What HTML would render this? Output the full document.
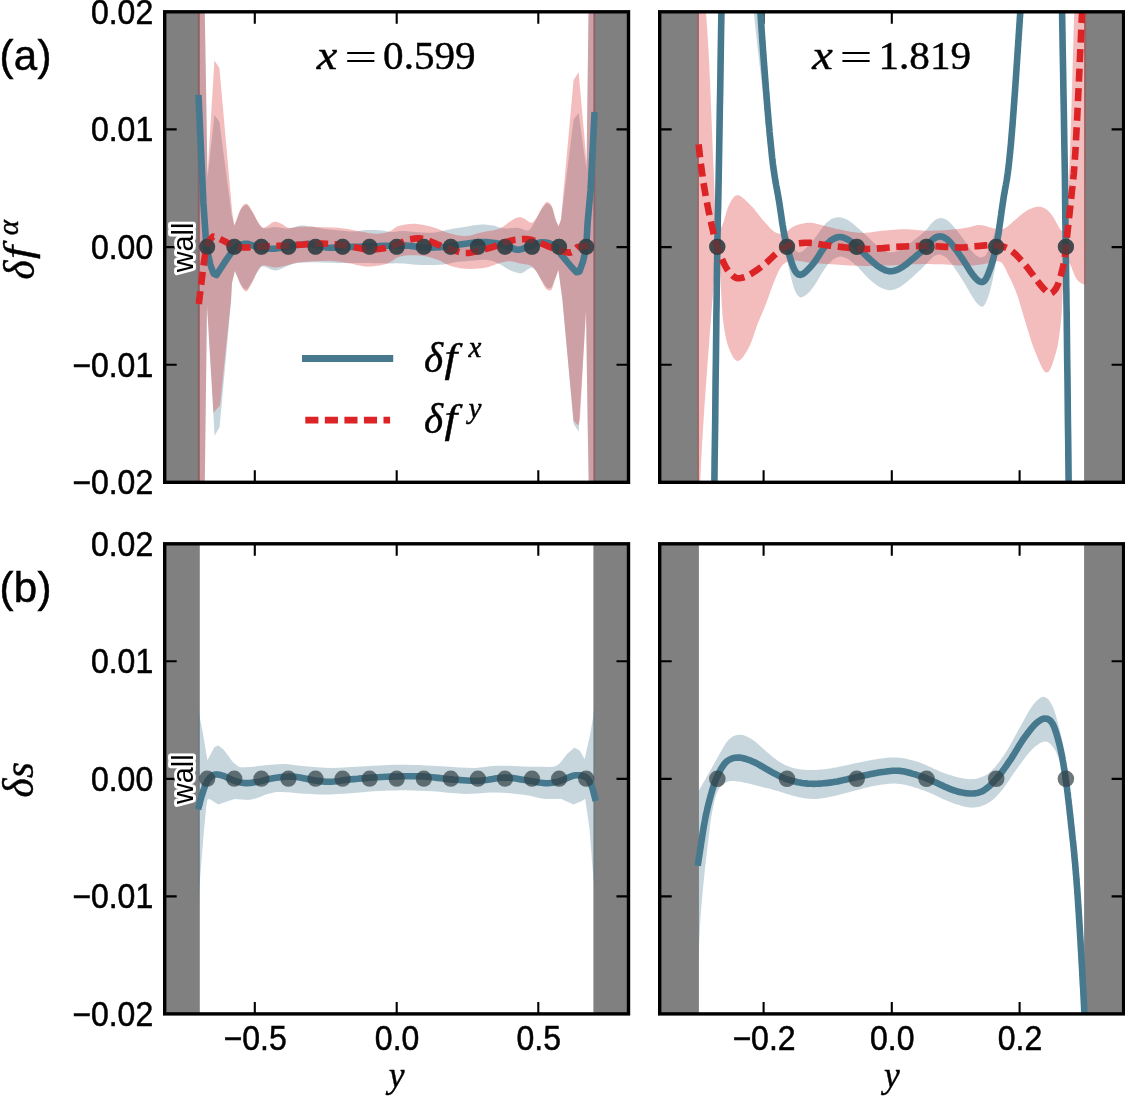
<!DOCTYPE html><html><head><meta charset="utf-8"><title>figure</title><style>html,body{margin:0;padding:0;background:#fff}svg{display:block}text{font-family:"Liberation Sans",sans-serif;fill:#000}.m{font-family:"Liberation Serif",serif}.i{font-style:italic}</style></head><body>
<svg width="1125" height="1096" viewBox="0 0 1125 1096">
<rect width="1125" height="1096" fill="#fff"/>
<defs>
<clipPath id="c00"><rect x="164.7" y="11.8" width="463.8" height="470.5"/></clipPath>
<clipPath id="c01"><rect x="659.7" y="11.8" width="463.9" height="470.5"/></clipPath>
<clipPath id="c10"><rect x="164.7" y="543.8" width="463.8" height="470.1"/></clipPath>
<clipPath id="c11"><rect x="659.7" y="543.8" width="463.9" height="470.1"/></clipPath>
</defs>
<g clip-path="url(#c00)">
<rect x="164.7" y="11.8" width="35.1" height="470.5" fill="#808080"/>
<rect x="593.4" y="11.8" width="35.1" height="470.5" fill="#808080"/>
<path d="M254.8 11.8v12.0 M254.8 482.3v-12.0 M396.7 11.8v12.0 M396.7 482.3v-12.0 M538.3 11.8v12.0 M538.3 482.3v-12.0 M164.7 129.4h12.0 M628.5 129.4h-12.0 M164.7 247.1h12.0 M628.5 247.1h-12.0 M164.7 364.7h12.0 M628.5 364.7h-12.0" stroke="#000" stroke-width="2.1" fill="none"/>
<polygon points="197.8,-300.0 202.8,-107.0 207.5,178.0 214.5,115.0 219.4,121.8 231.5,214.0 234.3,226.0 236.0,221.9 237.6,217.4 239.2,213.2 240.9,209.5 242.6,207.0 243.4,206.2 244.2,205.6 245.1,205.2 245.9,205.0 246.7,205.0 247.6,205.5 248.5,206.4 249.4,207.6 250.3,209.0 251.3,210.5 253.0,213.2 254.8,216.5 256.6,220.0 258.4,223.2 260.0,225.5 260.7,226.3 261.3,227.0 261.9,227.5 262.6,228.0 263.4,228.3 265.1,228.4 267.2,228.2 269.5,227.7 271.9,227.2 274.3,227.0 277.0,227.2 279.9,227.6 282.8,228.1 285.7,228.5 288.5,228.5 290.9,228.1 293.2,227.4 295.5,226.7 297.7,226.0 300.0,225.6 302.2,225.5 304.4,225.6 306.6,225.9 308.8,226.2 311.0,226.5 313.2,226.8 315.3,227.2 317.4,227.7 319.6,228.1 322.0,228.5 325.3,229.0 329.0,229.4 332.7,229.8 336.4,230.2 340.0,230.5 343.1,230.8 346.2,231.1 349.2,231.4 352.2,231.5 355.0,231.5 357.3,231.3 359.4,231.0 361.5,230.6 363.7,230.2 366.0,230.0 369.1,229.9 372.4,229.9 375.7,230.1 379.0,230.3 382.0,230.5 384.2,230.8 386.2,231.2 388.2,231.6 390.1,231.9 392.0,232.0 393.6,231.9 395.0,231.7 396.4,231.4 398.1,231.2 400.0,231.0 405.3,231.1 412.1,231.7 419.4,232.3 426.6,232.8 432.8,232.7 436.5,232.3 439.8,231.6 443.0,230.9 446.1,230.1 449.3,229.4 452.6,228.8 455.9,228.3 459.1,227.7 462.4,227.2 465.7,226.7 469.0,226.2 472.4,225.6 475.8,225.1 479.0,224.7 482.1,224.5 484.4,224.5 486.6,224.7 488.8,224.9 490.9,225.2 493.0,225.6 495.2,226.1 497.3,226.7 499.5,227.4 501.7,227.9 504.0,228.3 506.6,228.4 509.3,228.2 512.1,227.9 514.8,227.7 517.4,227.8 519.8,228.3 522.2,229.1 524.5,230.0 526.6,230.5 528.3,230.5 529.2,230.1 529.8,229.5 530.4,228.7 531.0,227.9 531.6,227.0 532.5,225.7 533.3,224.3 534.2,222.7 535.1,221.1 536.0,219.5 537.1,217.6 538.1,215.5 539.2,213.4 540.3,211.4 541.5,209.6 542.5,208.1 543.6,206.5 544.7,205.1 545.8,204.0 546.9,203.5 547.8,203.6 548.7,203.9 549.6,204.6 550.5,205.4 551.3,206.3 552.4,208.4 553.3,211.2 554.1,214.4 554.9,217.4 555.7,220.0 556.3,221.5 556.9,222.8 557.4,224.0 558.0,225.2 558.6,226.5 561.0,220.0 573.6,119.5 578.6,112.9 586.5,170.0 588.5,13.0 590.5,-107.0 595.3,-300.0 595.3,800.0 590.5,650.0 588.7,482.0 587.6,420.0 586.0,311.0 578.6,431.5 573.6,424.0 562.4,300.0 558.4,270.0 557.6,272.0 556.9,274.1 556.1,276.1 555.4,278.1 554.6,280.0 553.9,281.8 553.2,283.8 552.5,285.6 551.7,287.1 550.8,288.0 550.1,288.3 549.3,288.3 548.5,288.2 547.7,287.9 546.9,287.5 545.8,286.5 544.7,285.1 543.6,283.5 542.6,281.7 541.5,280.0 540.4,278.2 539.3,276.2 538.2,274.3 537.1,272.5 536.0,271.0 535.2,270.1 534.4,269.2 533.5,268.5 532.6,267.9 531.6,267.7 530.0,268.1 528.1,269.2 526.1,270.6 524.3,271.9 522.8,272.7 522.2,272.9 521.7,273.1 521.2,273.2 520.6,273.2 520.0,273.2 518.3,273.0 516.3,272.5 514.0,271.7 511.7,270.9 509.5,270.0 507.3,268.8 505.1,267.4 502.9,266.0 500.7,264.6 498.5,263.4 496.4,262.5 494.4,261.7 492.3,261.0 490.1,260.4 487.6,260.0 483.6,259.8 479.0,260.0 474.3,260.4 469.7,260.8 465.7,261.2 463.3,261.4 461.0,261.6 458.9,261.8 456.8,262.0 454.7,262.3 452.6,262.7 450.5,263.2 448.4,263.7 446.2,264.1 443.8,264.5 439.9,264.8 435.6,265.0 431.0,265.1 426.4,265.1 421.9,265.0 417.4,264.8 412.8,264.4 408.3,264.0 404.0,263.6 400.0,263.4 397.4,263.3 395.0,263.3 392.6,263.4 390.2,263.4 387.6,263.4 383.6,263.3 379.1,263.3 374.5,263.2 369.9,263.1 365.7,263.0 362.4,263.0 359.3,263.0 356.2,263.0 353.1,263.0 350.0,263.0 346.6,263.0 343.3,262.9 339.9,262.9 336.4,262.9 332.8,262.8 328.4,262.7 323.7,262.5 318.9,262.4 314.3,262.3 310.0,262.3 306.7,262.4 303.5,262.5 300.5,262.7 297.6,263.0 295.1,263.4 293.6,263.7 292.4,264.1 291.2,264.5 289.9,265.0 288.5,265.5 286.2,266.5 283.6,267.8 280.9,269.0 278.1,270.0 275.4,270.5 272.7,270.1 269.8,268.9 267.0,267.6 264.4,266.6 262.3,266.5 261.2,267.0 260.3,267.7 259.5,268.7 258.7,269.8 257.9,271.0 256.6,273.1 255.3,275.5 253.9,278.2 252.6,280.8 251.3,283.0 250.3,284.6 249.3,286.3 248.4,287.8 247.4,289.0 246.4,289.5 245.6,289.5 244.9,289.1 244.1,288.6 243.4,287.8 242.6,287.0 241.1,284.7 239.5,281.7 238.0,278.1 236.4,274.4 234.9,271.0 232.0,283.0 231.0,302.0 219.6,427.0 214.6,435.8 207.0,306.0 204.8,482.0 202.8,650.0 197.8,800.0" fill="#46788e" fill-opacity="0.30"/>
<polygon points="197.8,-300.0 202.8,-107.0 207.5,175.0 214.4,60.4 219.4,68.0 232.2,212.0 234.3,225.0 236.0,220.9 237.6,216.4 239.2,212.1 240.9,208.5 242.6,205.9 243.4,205.1 244.3,204.4 245.1,203.9 245.9,203.7 246.7,203.7 247.7,204.2 248.5,205.2 249.4,206.6 250.3,208.1 251.3,209.7 253.0,212.5 254.8,215.9 256.6,219.5 258.4,222.6 260.0,225.0 260.7,225.8 261.3,226.6 261.9,227.2 262.6,227.6 263.4,227.8 265.2,227.3 267.4,225.9 269.8,224.2 272.2,222.6 274.3,221.8 275.7,221.8 277.0,222.0 278.3,222.4 279.6,222.9 280.9,223.4 282.4,224.2 283.8,225.2 285.3,226.3 286.8,227.2 288.5,227.8 290.5,228.0 292.7,227.8 295.0,227.5 297.3,227.1 299.5,226.9 301.6,226.8 303.7,226.8 305.8,226.8 307.9,226.8 310.0,226.8 312.4,226.8 314.8,226.9 317.2,227.0 319.6,227.1 322.0,227.2 324.2,227.3 326.4,227.3 328.6,227.3 330.8,227.4 333.0,227.5 335.1,227.6 337.2,227.8 339.3,228.0 341.6,228.2 344.0,228.5 348.1,229.1 352.7,230.0 357.5,230.9 362.0,231.8 366.0,232.5 368.2,232.9 370.2,233.2 372.1,233.5 374.0,233.7 376.0,233.8 378.3,233.7 380.6,233.6 383.0,233.3 385.3,232.8 387.6,232.2 389.8,231.2 392.0,229.9 394.1,228.5 396.3,227.1 398.5,226.1 400.7,225.4 403.0,224.9 405.2,224.5 407.4,224.2 409.5,224.0 410.9,223.9 412.2,223.8 413.5,223.7 414.9,223.8 416.4,223.9 419.2,224.3 422.5,224.8 425.9,225.5 429.4,226.3 432.8,227.2 436.1,228.3 439.4,229.6 442.7,230.9 446.0,232.2 449.3,233.2 452.6,234.1 455.8,234.9 459.1,235.5 462.4,235.9 465.7,236.0 469.0,235.7 472.3,234.9 475.5,234.0 478.8,233.0 482.1,232.2 485.5,231.6 489.1,231.0 492.6,230.4 495.8,229.8 498.5,229.0 499.8,228.5 501.0,227.9 502.0,227.3 503.0,226.7 504.0,226.0 505.1,225.2 506.2,224.4 507.3,223.5 508.5,222.6 509.7,221.8 511.2,220.8 512.7,219.7 514.3,218.7 515.9,217.9 517.4,217.4 518.5,217.2 519.6,217.2 520.6,217.3 521.7,217.6 522.8,217.9 524.5,218.8 526.4,220.1 528.3,221.4 530.0,222.5 531.6,222.8 532.6,222.4 533.5,221.7 534.4,220.7 535.2,219.6 536.0,218.5 537.1,216.8 538.2,214.8 539.3,212.6 540.4,210.5 541.5,208.6 542.5,207.0 543.6,205.3 544.7,203.7 545.8,202.5 546.9,202.0 547.8,202.1 548.7,202.6 549.6,203.3 550.5,204.3 551.3,205.3 552.4,207.5 553.3,210.5 554.1,213.8 554.9,216.9 555.7,219.6 556.3,221.1 556.9,222.4 557.4,223.6 558.0,224.8 558.6,226.1 561.0,219.0 573.6,80.1 578.6,71.9 583.8,130.0 586.6,163.0 588.5,13.0 590.5,-107.0 595.3,-300.0 595.3,800.0 590.5,650.0 588.7,482.0 587.6,420.0 586.0,311.0 579.9,420.0 578.3,425.4 573.6,421.0 562.4,300.0 558.4,270.0 557.6,272.2 556.9,274.4 556.1,276.6 555.4,278.8 554.6,280.9 553.9,283.0 553.2,285.3 552.5,287.4 551.8,289.2 550.8,290.2 550.1,290.5 549.3,290.5 548.5,290.3 547.7,290.0 546.9,289.6 545.7,288.5 544.7,286.8 543.6,284.9 542.6,282.8 541.5,280.9 540.4,278.9 539.3,276.8 538.2,274.7 537.1,272.7 536.0,271.0 535.2,269.8 534.4,268.7 533.6,267.7 532.7,266.8 531.6,266.0 529.7,265.2 527.4,264.6 524.9,264.2 522.4,263.8 520.0,263.4 517.9,262.9 515.8,262.3 513.7,261.8 511.6,261.4 509.5,261.2 507.3,261.3 505.1,261.7 502.9,262.2 500.7,262.8 498.5,263.4 496.4,264.1 494.3,264.9 492.2,265.8 490.0,266.6 487.6,267.2 483.7,267.9 479.3,268.4 474.6,268.8 470.0,268.9 465.7,268.8 462.2,268.5 458.8,268.0 455.5,267.3 452.3,266.4 449.3,265.5 447.0,264.5 444.8,263.4 442.8,262.2 440.6,261.0 438.3,260.0 435.3,258.9 432.2,257.9 428.9,257.0 425.5,256.2 422.0,255.7 417.7,255.3 413.1,255.2 408.4,255.3 404.0,255.7 400.0,256.5 397.2,257.6 394.7,259.1 392.4,260.7 390.0,262.2 387.6,263.4 385.3,264.2 383.0,264.8 380.6,265.3 378.3,265.7 376.0,266.0 373.9,266.3 371.9,266.5 369.9,266.6 367.9,266.7 365.7,266.6 362.8,266.2 359.7,265.6 356.5,264.9 353.2,264.1 350.0,263.5 346.7,262.9 343.3,262.3 339.9,261.8 336.4,261.3 332.8,261.0 328.4,260.8 323.7,260.9 318.9,261.0 314.3,261.2 310.0,261.5 306.7,261.7 303.5,261.9 300.5,262.2 297.6,262.6 295.1,263.0 293.6,263.4 292.4,263.8 291.2,264.2 289.9,264.6 288.5,265.0 286.2,265.6 283.6,266.2 280.9,266.8 278.1,267.3 275.4,267.5 272.7,267.2 269.8,266.5 267.0,265.7 264.4,265.3 262.3,265.5 261.1,266.2 260.2,267.1 259.5,268.3 258.7,269.6 257.9,271.0 256.6,273.3 255.3,276.0 253.9,278.9 252.6,281.7 251.3,284.2 250.3,286.0 249.3,287.8 248.4,289.5 247.4,290.7 246.4,291.3 245.6,291.2 244.9,290.9 244.1,290.2 243.4,289.4 242.6,288.5 241.1,286.0 239.5,282.6 238.0,278.8 236.4,274.8 234.9,271.0 232.0,283.0 231.0,300.0 220.0,405.5 213.5,412.8 207.0,305.5 204.8,482.0 202.8,650.0 197.8,800.0" fill="#dc2326" fill-opacity="0.30"/>
<path d="M198.6 98.2 L203.4 203.0 L206.4 247.0 L210.3 264.5 L213.5 273.5 L216.5 275.0 L221.0 268.0 L226.1 260.1 L233.8 249.1 L238.5 245.5 L240.0 245.1 L241.4 244.6 L242.9 244.2 L244.3 243.8 L245.8 243.7 L247.2 243.8 L248.7 244.1 L250.1 244.6 L251.5 245.0 L253.0 245.5 L254.5 246.0 L256.1 246.5 L257.6 247.1 L259.2 247.6 L261.0 248.0 L263.5 248.4 L266.3 248.6 L269.2 248.7 L272.2 248.7 L275.0 248.6 L277.6 248.3 L280.3 247.9 L282.9 247.5 L285.4 246.9 L288.0 246.5 L290.4 246.1 L292.9 245.7 L295.3 245.3 L297.7 245.0 L300.0 244.7 L302.0 244.5 L303.9 244.2 L305.9 244.0 L307.9 243.9 L310.0 244.0 L313.1 244.4 L316.4 245.2 L319.8 246.1 L323.4 247.0 L327.0 247.5 L331.3 247.7 L335.7 247.6 L340.3 247.4 L344.7 247.2 L349.0 247.0 L352.5 246.9 L355.9 246.8 L359.2 246.7 L362.5 246.6 L366.0 246.5 L370.2 246.4 L374.4 246.2 L378.8 246.0 L383.2 245.9 L387.6 245.8 L392.1 245.7 L396.6 245.6 L401.2 245.6 L405.5 245.6 L409.5 245.8 L412.2 246.1 L414.6 246.5 L416.9 246.9 L419.3 247.3 L422.0 247.5 L426.0 247.6 L430.3 247.7 L434.8 247.5 L439.3 247.3 L443.8 247.0 L448.2 246.5 L452.7 245.8 L457.2 245.1 L461.5 244.3 L465.7 243.7 L469.1 243.2 L472.4 242.8 L475.7 242.4 L478.9 242.1 L482.1 242.0 L485.4 242.1 L488.8 242.3 L492.2 242.7 L495.4 243.1 L498.5 243.7 L500.9 244.3 L503.2 244.9 L505.4 245.6 L507.5 246.3 L509.5 247.0 L511.1 247.6 L512.7 248.3 L514.2 249.0 L515.8 249.5 L517.4 249.7 L519.4 249.6 L521.5 249.1 L523.7 248.5 L525.8 247.7 L528.0 247.0 L530.2 246.1 L532.5 245.1 L534.8 244.0 L537.0 243.2 L539.3 242.6 L541.5 242.4 L543.7 242.4 L546.0 242.6 L548.1 243.0 L550.0 243.5 L551.3 244.0 L552.6 244.7 L553.7 245.5 L554.8 246.3 L556.0 247.0 L561.2 254.6 L566.5 261.0 L571.5 267.0 L576.5 272.3 L579.5 271.5 L583.1 261.2 L586.3 247.0 L587.6 222.8 L590.6 190.0 L594.4 115.3" fill="none" stroke="#46788e" stroke-width="6.6" stroke-linejoin="round" stroke-linecap="square"/>
<circle cx="207.2" cy="246.8" r="8.0" fill="#313e43" fill-opacity="0.7"/><circle cx="234.3" cy="246.8" r="8.0" fill="#313e43" fill-opacity="0.7"/><circle cx="261.4" cy="246.8" r="8.0" fill="#313e43" fill-opacity="0.7"/><circle cx="288.4" cy="246.8" r="8.0" fill="#313e43" fill-opacity="0.7"/><circle cx="315.5" cy="246.8" r="8.0" fill="#313e43" fill-opacity="0.7"/><circle cx="342.6" cy="246.8" r="8.0" fill="#313e43" fill-opacity="0.7"/><circle cx="369.6" cy="246.8" r="8.0" fill="#313e43" fill-opacity="0.7"/><circle cx="396.7" cy="246.8" r="8.0" fill="#313e43" fill-opacity="0.7"/><circle cx="423.8" cy="246.8" r="8.0" fill="#313e43" fill-opacity="0.7"/><circle cx="450.8" cy="246.8" r="8.0" fill="#313e43" fill-opacity="0.7"/><circle cx="477.9" cy="246.8" r="8.0" fill="#313e43" fill-opacity="0.7"/><circle cx="505.0" cy="246.8" r="8.0" fill="#313e43" fill-opacity="0.7"/><circle cx="532.0" cy="246.8" r="8.0" fill="#313e43" fill-opacity="0.7"/><circle cx="559.1" cy="246.8" r="8.0" fill="#313e43" fill-opacity="0.7"/><circle cx="586.2" cy="246.8" r="8.0" fill="#313e43" fill-opacity="0.7"/>
<path d="M198.8 304.0 L202.0 277.6 L204.2 260.0 L206.4 247.0 L209.5 240.0 L213.0 236.5 L217.0 237.5 L222.8 240.4 L225.0 241.5 L227.2 242.7 L229.4 243.9 L231.6 245.0 L233.8 245.8 L235.9 246.4 L238.0 246.8 L240.2 247.1 L242.4 247.4 L244.7 247.5 L247.7 247.5 L250.9 247.3 L254.1 247.0 L257.6 246.7 L261.2 246.4 L266.4 246.2 L272.2 245.9 L278.1 245.7 L283.7 245.5 L288.5 245.3 L291.1 245.2 L293.3 245.1 L295.4 244.9 L297.5 244.8 L300.0 244.7 L303.9 244.5 L308.3 244.1 L312.9 243.9 L317.5 243.6 L322.0 243.6 L326.4 243.7 L330.7 244.0 L335.1 244.3 L339.4 244.8 L343.8 245.3 L348.2 246.0 L352.7 246.9 L357.2 247.8 L361.5 248.6 L365.7 249.1 L369.1 249.3 L372.4 249.4 L375.6 249.3 L378.8 249.0 L382.0 248.6 L385.4 247.9 L388.8 247.0 L392.1 245.9 L395.4 244.8 L398.5 243.7 L400.9 242.8 L403.2 241.8 L405.4 240.8 L407.6 239.9 L409.9 239.3 L412.3 238.9 L414.6 238.5 L417.0 238.4 L419.5 238.4 L422.0 238.7 L425.2 239.4 L428.5 240.6 L431.8 242.0 L435.1 243.4 L438.3 244.7 L441.0 245.8 L443.6 246.8 L446.2 247.8 L448.8 248.8 L451.5 249.7 L454.3 250.6 L457.2 251.4 L460.1 252.2 L463.0 252.7 L465.7 253.0 L467.9 253.0 L470.1 252.7 L472.2 252.3 L474.3 251.8 L476.6 251.3 L479.7 250.6 L483.1 249.8 L486.5 248.8 L489.9 247.9 L493.0 246.9 L495.4 246.1 L497.6 245.2 L499.8 244.2 L502.0 243.4 L504.2 242.6 L506.4 241.9 L508.5 241.3 L510.7 240.7 L512.9 240.2 L515.2 239.8 L517.8 239.5 L520.4 239.2 L523.1 239.1 L525.7 239.1 L528.3 239.3 L530.5 239.7 L532.7 240.3 L534.8 241.0 L537.0 241.8 L539.3 242.6 L542.4 243.8 L545.6 245.2 L549.0 246.6 L552.4 248.0 L555.7 249.1 L558.9 250.1 L562.2 251.2 L565.4 252.1 L568.4 252.6 L571.0 252.4 L572.6 251.7 L573.9 250.7 L575.2 249.5 L576.3 248.2 L577.6 247.0 L590.2 245.3 L595.0 245.0" fill="none" stroke="#dc2326" stroke-width="6.6" stroke-linejoin="round" stroke-dasharray="12.95 6.45" stroke-linecap="butt"/>
<circle cx="207.2" cy="246.8" r="8.0" fill="#313e43" fill-opacity="0.7"/><circle cx="234.3" cy="246.8" r="8.0" fill="#313e43" fill-opacity="0.7"/><circle cx="261.4" cy="246.8" r="8.0" fill="#313e43" fill-opacity="0.7"/><circle cx="288.4" cy="246.8" r="8.0" fill="#313e43" fill-opacity="0.7"/><circle cx="315.5" cy="246.8" r="8.0" fill="#313e43" fill-opacity="0.7"/><circle cx="342.6" cy="246.8" r="8.0" fill="#313e43" fill-opacity="0.7"/><circle cx="369.6" cy="246.8" r="8.0" fill="#313e43" fill-opacity="0.7"/><circle cx="396.7" cy="246.8" r="8.0" fill="#313e43" fill-opacity="0.7"/><circle cx="423.8" cy="246.8" r="8.0" fill="#313e43" fill-opacity="0.7"/><circle cx="450.8" cy="246.8" r="8.0" fill="#313e43" fill-opacity="0.7"/><circle cx="477.9" cy="246.8" r="8.0" fill="#313e43" fill-opacity="0.7"/><circle cx="505.0" cy="246.8" r="8.0" fill="#313e43" fill-opacity="0.7"/><circle cx="532.0" cy="246.8" r="8.0" fill="#313e43" fill-opacity="0.7"/><circle cx="559.1" cy="246.8" r="8.0" fill="#313e43" fill-opacity="0.7"/><circle cx="586.2" cy="246.8" r="8.0" fill="#313e43" fill-opacity="0.7"/>
</g>
<g clip-path="url(#c01)">
<rect x="659.7" y="11.8" width="39.2" height="470.5" fill="#808080"/>
<rect x="1084.1" y="11.8" width="39.5" height="470.5" fill="#808080"/>
<path d="M763.6 11.8v12.0 M763.6 482.3v-12.0 M891.8 11.8v12.0 M891.8 482.3v-12.0 M1019.6 11.8v12.0 M1019.6 482.3v-12.0 M659.7 129.4h12.0 M1123.6 129.4h-12.0 M659.7 247.1h12.0 M1123.6 247.1h-12.0 M659.7 364.7h12.0 M1123.6 364.7h-12.0" stroke="#000" stroke-width="2.1" fill="none"/>
<polygon points="756.0,-86.0 756.1,-84.0 756.2,-82.0 756.3,-80.0 756.4,-78.0 756.5,-76.0 756.5,-74.0 756.6,-72.0 756.7,-70.0 756.8,-68.0 756.9,-66.0 757.0,-64.0 757.1,-62.0 757.1,-60.0 757.2,-58.0 757.3,-56.0 757.4,-54.0 757.5,-51.9 757.6,-49.9 757.6,-47.9 757.7,-45.9 757.8,-43.9 757.9,-41.9 758.0,-39.8 758.1,-37.8 758.2,-35.8 758.3,-33.8 758.3,-31.8 758.4,-29.8 758.5,-27.7 758.6,-25.7 758.7,-23.7 758.8,-21.7 758.9,-19.7 759.0,-17.7 759.1,-15.6 759.2,-13.6 759.3,-11.6 759.4,-9.6 759.6,-7.6 759.7,-5.6 759.8,-3.5 759.9,-1.5 760.0,0.5 760.2,2.5 760.3,4.6 760.4,6.6 760.5,8.6 760.7,10.6 760.8,12.6 760.9,14.7 761.1,16.7 761.2,18.7 761.3,20.7 761.5,22.7 761.6,24.8 761.7,26.8 761.9,28.8 762.0,30.8 762.1,32.9 762.3,34.9 762.4,36.9 762.6,38.9 762.7,40.9 762.9,43.0 763.0,45.0 763.1,47.0 763.3,49.0 763.4,51.0 763.6,53.0 763.7,55.1 763.9,57.1 764.0,59.1 764.2,61.1 764.3,63.1 764.5,65.2 764.6,67.2 764.8,69.2 764.9,71.2 765.1,73.2 765.2,75.3 765.4,77.3 765.5,79.3 765.7,81.3 765.8,83.3 766.0,85.4 766.2,87.4 766.3,89.4 766.5,91.4 766.6,93.4 766.8,95.5 767.0,97.5 767.1,99.5 767.3,101.5 767.4,103.5 767.6,105.6 767.8,107.6 768.0,109.6 768.1,111.6 768.3,113.6 768.5,115.6 768.6,117.6 768.8,119.6 769.0,121.6 769.2,123.6 769.4,125.5 769.5,127.5 769.7,129.5 769.9,131.5 770.1,133.5 770.3,135.5 770.5,137.5 770.7,139.5 770.9,141.5 771.1,143.5 771.3,145.5 771.5,147.4 771.7,149.4 771.9,151.4 772.1,153.4 772.4,155.4 772.6,157.4 772.8,159.4 773.1,161.4 773.3,163.3 773.6,165.3 773.9,167.3 774.2,169.3 774.5,171.3 774.8,173.2 775.1,175.2 775.4,176.9 775.8,178.7 776.1,180.5 776.5,182.2 776.9,184.0 777.2,185.7 777.6,187.5 778.0,189.3 778.3,191.0 778.6,192.8 779.0,194.6 779.3,196.4 779.6,198.2 779.9,200.0 780.2,201.8 780.5,203.6 780.8,205.4 781.1,207.2 781.4,209.0 781.7,210.9 781.9,212.7 782.2,214.3 782.5,215.9 782.9,217.4 783.2,219.0 783.5,220.5 783.9,222.0 784.2,223.5 784.6,224.9 785.0,226.4 785.4,227.7 785.9,229.1 786.4,230.4 786.8,231.7 787.3,233.0 787.9,234.2 788.4,235.7 789.0,237.2 789.5,238.7 790.1,240.2 790.7,241.7 791.3,243.1 791.9,244.6 792.6,246.0 793.3,247.4 794.1,248.6 795.0,249.7 796.1,251.0 797.4,252.0 798.8,252.4 800.4,252.2 802.0,251.5 803.6,250.4 805.1,249.0 806.6,247.4 808.0,245.8 809.4,244.2 810.7,242.7 812.0,241.3 813.3,240.0 814.5,238.5 815.7,237.1 816.8,235.6 817.9,234.1 819.0,232.5 820.0,231.0 821.1,229.4 822.2,227.9 823.3,226.4 824.5,225.0 825.8,223.6 827.1,222.3 828.5,221.2 830.0,220.1 831.6,219.1 833.2,218.3 835.0,217.7 836.8,217.4 838.7,217.3 840.7,217.5 842.6,217.8 844.4,218.4 846.2,219.2 848.0,220.1 849.6,221.2 851.3,222.4 852.8,223.6 854.3,224.9 855.8,226.3 857.3,227.6 858.8,228.8 860.2,230.1 861.6,231.3 863.1,232.6 864.5,233.9 865.9,235.2 867.3,236.4 868.8,237.8 870.2,239.3 871.7,240.7 873.2,242.2 874.7,243.6 876.2,245.0 877.8,246.3 879.5,247.5 881.2,248.6 883.0,249.7 884.8,250.6 886.6,251.4 888.6,252.0 890.5,252.2 892.4,252.2 894.4,251.9 896.3,251.4 898.1,250.7 899.9,249.9 901.6,249.0 903.3,248.0 904.9,247.0 906.5,245.8 908.1,244.6 909.6,243.4 911.1,242.2 912.7,241.0 914.2,239.8 915.7,238.7 917.3,237.5 918.8,236.3 920.3,235.1 921.8,233.9 923.3,232.6 924.7,231.4 926.1,230.0 927.4,228.4 928.7,226.8 930.0,225.1 931.3,223.5 932.7,222.0 934.3,220.7 935.9,219.6 937.7,218.7 939.6,218.2 941.5,218.1 943.3,218.4 945.0,219.0 946.7,219.9 948.2,221.0 949.6,222.2 950.9,223.5 952.2,224.8 953.4,226.2 954.6,227.7 955.8,229.1 957.0,230.6 958.2,232.1 959.3,233.6 960.4,235.1 961.6,236.6 962.7,238.2 963.8,239.7 964.9,241.2 966.0,242.8 967.0,244.4 968.1,246.0 969.1,247.6 970.2,249.1 971.3,250.5 972.5,251.8 973.7,253.1 975.0,254.3 976.3,255.5 977.8,256.5 979.3,257.2 980.9,257.5 982.5,257.1 983.9,256.7 985.2,255.8 986.2,254.4 987.1,252.8 987.9,251.2 988.6,249.6 989.3,247.9 990.0,246.2 990.7,244.7 991.3,243.1 991.9,241.5 992.5,239.8 993.0,238.2 993.5,236.5 994.0,234.8 994.5,233.1 995.0,231.4 995.4,229.6 995.8,227.9 996.2,226.4 996.6,225.0 997.0,223.6 997.4,222.2 997.7,220.7 998.0,219.2 998.4,217.7 998.7,216.2 999.0,214.7 999.2,213.1 999.5,211.6 999.8,210.0 1000.1,208.4 1000.3,206.8 1000.6,205.2 1000.9,203.6 1001.2,202.0 1001.4,200.4 1001.7,198.8 1002.0,197.2 1002.3,195.7 1002.6,194.1 1002.9,192.5 1003.2,191.0 1003.5,189.5 1003.8,187.9 1004.1,186.4 1004.5,185.0 1004.8,183.5 1005.2,181.8 1005.5,180.1 1005.9,178.3 1006.2,176.6 1006.6,174.8 1006.9,173.0 1007.2,171.2 1007.5,169.4 1007.8,167.6 1008.0,165.8 1008.3,164.0 1008.5,162.1 1008.8,160.3 1009.0,158.4 1009.2,156.6 1009.4,154.7 1009.6,152.8 1009.8,151.0 1010.0,149.1 1010.2,147.1 1010.4,145.1 1010.6,143.1 1010.8,141.1 1011.0,139.2 1011.1,137.2 1011.3,135.2 1011.5,133.2 1011.6,131.2 1011.8,129.2 1012.0,127.3 1012.1,125.3 1012.3,123.3 1012.5,121.3 1012.6,119.3 1012.8,117.3 1012.9,115.3 1013.1,113.4 1013.2,111.4 1013.4,109.4 1013.5,107.4 1013.7,105.4 1013.8,103.4 1014.0,101.4 1014.1,99.4 1014.3,97.5 1014.4,95.5 1014.5,93.5 1014.7,91.5 1014.8,89.5 1015.0,87.5 1015.1,85.5 1015.2,83.5 1015.4,81.6 1015.5,79.6 1015.7,77.6 1015.8,75.6 1015.9,73.6 1016.1,71.6 1016.2,69.6 1016.3,67.6 1016.5,65.6 1016.6,63.7 1016.7,61.7 1016.9,59.7 1017.0,57.7 1017.1,55.7 1017.3,53.7 1017.4,51.7 1017.5,49.7 1017.7,47.7 1017.8,45.8 1017.9,43.8 1018.1,41.8 1018.2,39.8 1018.3,37.8 1018.5,35.8 1018.6,33.8 1018.7,31.8 1018.9,29.8 1019.0,27.9 1019.1,25.9 1019.3,23.9 1019.4,21.9 1019.5,19.9 1019.7,17.9 1019.8,15.9 1019.9,13.9 1020.1,11.9 1020.2,10.0 1020.3,8.0 1020.5,6.0 1020.6,4.0 1020.7,2.0 1020.9,0.0 1021.0,-2.0 1021.1,-4.0 1021.3,-6.0 1021.4,-7.9 1021.5,-9.9 1021.7,-11.9 1021.8,-13.9 1021.9,-15.9 1022.0,-17.9 1022.2,-19.9 1022.3,-21.9 1022.4,-23.9 1022.5,-25.9 1022.7,-27.8 1022.8,-29.8 1022.9,-31.8 1023.0,-33.8 1023.1,-35.8 1023.3,-37.8 1023.4,-39.8 1023.5,-41.8 1023.6,-43.8 1023.7,-45.8 1023.9,-47.7 1024.0,-49.7 1024.1,-51.7 1024.2,-53.7 1024.3,-55.7 1024.5,-57.7 1024.6,-59.7 1024.7,-61.7 1024.8,-63.7 1024.9,-65.7 1025.1,-67.7 1025.2,-69.6 1025.3,-71.6 1025.4,-73.6 1025.5,-75.6 1025.7,-77.6 1025.8,-79.6 1025.9,-81.6 1025.9,-75.4 1025.8,-73.4 1025.7,-71.4 1025.5,-69.4 1025.4,-67.4 1025.3,-65.4 1025.2,-63.4 1025.1,-61.4 1024.9,-59.4 1024.8,-57.4 1024.7,-55.4 1024.6,-53.4 1024.5,-51.4 1024.3,-49.4 1024.2,-47.4 1024.1,-45.4 1024.0,-43.4 1023.9,-41.4 1023.7,-39.4 1023.6,-37.4 1023.5,-35.4 1023.4,-33.5 1023.3,-31.5 1023.1,-29.5 1023.0,-27.5 1022.9,-25.5 1022.8,-23.5 1022.7,-21.5 1022.5,-19.5 1022.4,-17.5 1022.3,-15.5 1022.2,-13.5 1022.0,-11.5 1021.9,-9.5 1021.8,-7.5 1021.7,-5.5 1021.5,-3.5 1021.4,-1.5 1021.3,0.5 1021.1,2.5 1021.0,4.5 1020.9,6.5 1020.7,8.5 1020.6,10.5 1020.5,12.5 1020.3,14.4 1020.2,16.4 1020.1,18.4 1019.9,20.4 1019.8,22.4 1019.7,24.4 1019.5,26.4 1019.4,28.4 1019.3,30.4 1019.1,32.4 1019.0,34.4 1018.9,36.4 1018.7,38.4 1018.6,40.4 1018.5,42.4 1018.3,44.4 1018.2,46.4 1018.1,48.4 1017.9,50.4 1017.8,52.4 1017.7,54.4 1017.5,56.4 1017.4,58.4 1017.3,60.3 1017.1,62.3 1017.0,64.3 1016.9,66.3 1016.7,68.3 1016.6,70.3 1016.5,72.3 1016.3,74.3 1016.2,76.3 1016.1,78.3 1015.9,80.3 1015.8,82.3 1015.7,84.3 1015.5,86.3 1015.4,88.3 1015.2,90.3 1015.1,92.3 1015.0,94.3 1014.8,96.3 1014.7,98.3 1014.5,100.3 1014.4,102.2 1014.3,104.2 1014.1,106.2 1014.0,108.2 1013.8,110.2 1013.7,112.2 1013.5,114.2 1013.4,116.2 1013.2,118.2 1013.1,120.2 1012.9,122.2 1012.8,124.2 1012.6,126.2 1012.5,128.2 1012.3,130.2 1012.1,132.2 1012.0,134.2 1011.8,136.2 1011.6,138.1 1011.5,140.1 1011.3,142.1 1011.1,144.1 1011.0,146.1 1010.8,148.1 1010.6,150.1 1010.4,152.1 1010.2,154.1 1010.0,156.1 1009.8,158.1 1009.6,160.1 1009.4,162.2 1009.2,164.2 1009.0,166.2 1008.8,168.2 1008.5,170.3 1008.3,172.3 1008.0,174.4 1007.8,176.4 1007.5,178.4 1007.2,180.5 1006.9,182.5 1006.6,184.5 1006.2,186.6 1005.9,188.6 1005.5,190.7 1005.2,192.7 1004.8,194.8 1004.5,197.1 1004.1,199.3 1003.8,201.6 1003.5,203.8 1003.2,206.0 1002.9,208.2 1002.6,210.5 1002.3,212.7 1002.0,214.9 1001.7,217.1 1001.4,219.3 1001.2,221.5 1000.9,223.7 1000.6,225.9 1000.3,228.1 1000.1,230.3 999.8,232.7 999.5,235.1 999.2,237.6 999.0,240.1 998.7,242.6 998.4,245.1 998.0,247.6 997.7,250.2 997.4,252.7 997.0,255.3 996.6,258.0 996.2,260.6 995.8,263.2 995.4,265.6 995.0,268.1 994.5,270.6 994.0,273.1 993.5,275.6 993.0,278.1 992.5,280.7 991.9,283.2 991.3,285.8 990.7,288.5 990.0,291.1 989.3,293.3 988.6,295.5 987.9,297.6 987.1,299.7 986.2,301.8 985.2,303.9 983.9,305.6 982.5,306.9 980.9,306.5 979.3,305.5 977.8,304.1 976.3,302.4 975.0,300.7 973.7,298.8 972.5,297.0 971.3,295.1 970.2,293.2 969.1,291.3 968.1,289.5 967.0,287.7 966.0,285.9 964.9,284.1 963.8,282.3 962.7,280.5 961.6,278.7 960.4,276.9 959.3,275.1 958.2,273.4 957.0,271.6 955.8,269.9 954.6,268.1 953.4,266.3 952.2,264.6 950.9,262.9 949.6,261.2 948.2,259.6 946.7,258.1 945.0,256.8 943.3,255.7 941.5,254.9 939.6,254.6 937.7,254.7 935.9,255.3 934.3,256.1 932.7,257.2 931.3,258.4 930.0,259.8 928.7,261.3 927.4,262.7 926.1,264.0 924.7,265.5 923.3,267.0 921.8,268.5 920.3,269.9 918.8,271.3 917.3,272.7 915.7,274.1 914.2,275.5 912.7,276.9 911.1,278.3 909.6,279.6 908.1,281.0 906.5,282.3 904.9,283.6 903.3,284.8 901.6,286.0 899.9,287.0 898.1,288.0 896.3,288.8 894.4,289.5 892.4,290.0 890.5,290.2 888.6,290.2 886.6,289.8 884.8,289.3 883.0,288.6 881.2,287.8 879.5,286.9 877.8,285.9 876.2,284.8 874.7,283.7 873.2,282.5 871.7,281.2 870.2,280.0 868.8,278.7 867.3,277.3 865.9,275.8 864.5,274.3 863.1,272.7 861.6,271.2 860.2,269.7 858.8,268.1 857.3,266.6 855.8,265.3 854.3,263.9 852.8,262.6 851.3,261.4 849.6,260.2 848.0,259.1 846.2,258.2 844.4,257.4 842.6,256.8 840.7,256.5 838.7,256.7 836.8,257.4 835.0,258.4 833.2,259.6 831.6,260.9 830.0,262.4 828.5,264.0 827.1,265.6 825.8,267.4 824.5,269.1 823.3,270.9 822.2,272.6 821.1,274.5 820.0,276.3 819.0,278.1 817.9,280.0 816.8,281.8 815.7,283.6 814.5,285.3 813.3,287.1 812.0,288.8 810.7,290.5 809.4,292.0 808.0,293.2 806.6,294.5 805.1,295.6 803.6,296.6 802.0,297.3 800.4,297.5 798.8,296.6 797.4,295.0 796.1,292.9 795.0,290.8 794.1,288.2 793.3,285.7 792.6,283.2 791.9,280.8 791.3,278.4 790.7,275.9 790.1,273.5 789.5,271.1 789.0,268.7 788.4,266.3 787.9,263.9 787.3,261.4 786.8,259.0 786.4,256.6 785.9,254.2 785.4,251.8 785.0,249.4 784.6,247.0 784.2,244.7 783.9,242.3 783.5,240.0 783.2,237.7 782.9,235.4 782.5,233.1 782.2,230.9 781.9,228.6 781.7,226.6 781.4,224.5 781.1,222.4 780.8,220.4 780.5,218.3 780.2,216.3 779.9,214.2 779.6,212.1 779.3,210.1 779.0,208.0 778.6,205.9 778.3,203.9 778.0,201.8 777.6,199.7 777.2,197.7 776.9,195.6 776.5,193.5 776.1,191.4 775.8,189.4 775.4,187.3 775.1,185.2 774.8,183.2 774.5,181.3 774.2,179.3 773.9,177.3 773.6,175.3 773.3,173.3 773.1,171.4 772.8,169.4 772.6,167.4 772.4,165.4 772.1,163.4 771.9,161.4 771.7,159.4 771.5,157.4 771.3,155.5 771.1,153.5 770.9,151.5 770.7,149.5 770.5,147.5 770.3,145.5 770.1,143.5 769.9,141.5 769.7,139.5 769.5,137.5 769.4,135.5 769.2,133.6 769.0,131.6 768.8,129.6 768.6,127.6 768.5,125.6 768.3,123.6 768.1,121.6 768.0,119.6 767.8,117.6 767.6,115.6 767.4,113.6 767.3,111.6 767.1,109.6 767.0,107.7 766.8,105.7 766.6,103.7 766.5,101.7 766.3,99.7 766.2,97.7 766.0,95.7 765.8,93.7 765.7,91.7 765.5,89.7 765.4,87.7 765.2,85.7 765.1,83.7 764.9,81.7 764.8,79.7 764.6,77.7 764.5,75.8 764.3,73.8 764.2,71.8 764.0,69.8 763.9,67.8 763.7,65.8 763.6,63.8 763.4,61.8 763.3,59.8 763.1,57.8 763.0,55.8 762.9,53.8 762.7,51.8 762.6,49.8 762.4,47.8 762.3,45.8 762.1,43.8 762.0,41.8 761.9,39.8 761.7,37.8 761.6,35.9 761.5,33.9 761.3,31.9 761.2,29.9 761.1,27.9 760.9,25.9 760.8,23.9 760.7,21.9 760.5,19.9 760.4,17.9 760.3,15.9 760.2,13.9 760.0,11.9 759.9,9.9 759.8,7.9 759.7,5.9 759.6,3.9 759.4,1.9 759.3,-0.1 759.2,-2.1 759.1,-4.1 759.0,-6.1 758.9,-8.1 758.8,-10.1 758.7,-12.1 758.6,-14.1 758.5,-16.1 758.4,-18.1 758.3,-20.1 758.3,-22.0 758.2,-24.0 758.1,-26.0 758.0,-28.0 757.9,-30.0 757.8,-32.0 757.7,-34.0 757.6,-36.0 757.6,-38.0 757.5,-40.0 757.4,-42.0 757.3,-44.0 757.2,-46.0 757.1,-48.0 757.1,-50.0 757.0,-52.0 756.9,-54.0 756.8,-56.0 756.7,-58.0 756.6,-60.0 756.5,-62.0 756.5,-64.0 756.4,-66.0 756.3,-68.0 756.2,-70.0 756.1,-72.0 756.0,-74.0" fill="#46788e" fill-opacity="0.30"/>
<polygon points="753.7,11.8 758.4,55 762.5,90 766.2,130 770,165 773,165 760.4,11.8" fill="#46788e" fill-opacity="0.30"/>
<polygon points="697.3,-60.0 697.5,-58.0 697.8,-56.0 698.0,-54.0 698.3,-52.1 698.5,-50.1 698.8,-48.1 699.1,-46.1 699.3,-44.1 699.6,-42.1 699.9,-40.2 700.1,-38.2 700.4,-36.2 700.7,-34.2 700.9,-32.2 701.2,-30.3 701.4,-28.3 701.7,-26.3 702.0,-24.3 702.2,-22.3 702.5,-20.3 702.7,-18.4 703.0,-16.4 703.2,-14.4 703.4,-12.4 703.7,-10.4 703.9,-8.4 704.1,-6.4 704.4,-4.4 704.6,-2.5 704.8,-0.5 705.0,1.5 705.2,3.5 705.4,5.5 705.6,7.5 705.7,9.5 705.9,11.5 706.1,13.5 706.2,15.5 706.4,17.5 706.5,19.5 706.7,21.4 706.8,23.4 707.0,25.4 707.1,27.4 707.3,29.4 707.4,31.4 707.5,33.4 707.6,35.4 707.8,37.4 707.9,39.4 708.0,41.4 708.1,43.4 708.2,45.4 708.3,47.4 708.5,49.4 708.6,51.4 708.7,53.4 708.8,55.4 708.9,57.4 709.0,59.4 709.1,61.4 709.2,63.4 709.3,65.4 709.4,67.4 709.5,69.4 709.5,71.4 709.6,73.4 709.7,75.4 709.8,77.4 709.9,79.4 710.0,81.4 710.1,83.4 710.2,85.3 710.2,87.3 710.3,89.3 710.4,91.3 710.5,93.3 710.6,95.3 710.7,97.3 710.7,99.3 710.8,101.3 710.9,103.3 711.0,105.3 711.1,107.3 711.1,109.3 711.2,111.3 711.3,113.3 711.4,115.3 711.5,117.3 711.5,119.3 711.6,121.3 711.7,123.3 711.8,125.3 711.8,127.3 711.9,129.3 712.0,131.3 712.1,133.3 712.2,135.3 712.2,137.3 712.3,139.3 712.4,141.3 712.5,143.3 712.6,145.3 712.6,147.3 712.7,149.3 712.8,151.3 712.9,153.3 713.0,155.3 713.1,157.3 713.2,159.3 713.2,161.3 713.3,163.3 713.4,165.3 713.5,167.3 713.6,169.3 713.7,171.3 713.8,173.3 713.8,175.3 713.9,177.3 714.0,179.3 714.1,181.3 714.2,183.3 714.2,185.3 714.3,187.3 714.4,189.3 714.5,191.3 714.6,193.3 714.6,195.3 714.7,197.3 714.8,199.3 714.9,201.3 715.0,203.3 715.0,205.2 715.1,207.2 715.2,209.2 715.3,211.2 715.4,213.2 715.5,215.2 715.7,217.2 715.8,219.2 715.9,221.2 716.1,223.2 716.2,225.2 716.3,227.2 716.5,229.2 717.0,230.8 718.1,231.2 719.4,230.1 720.6,228.4 721.6,226.7 722.4,224.9 723.2,223.1 723.8,221.2 724.4,219.3 724.9,217.3 725.5,215.4 726.0,213.5 726.5,211.6 727.2,209.7 727.8,207.8 728.6,205.9 729.5,204.1 730.4,202.4 731.3,200.6 732.4,198.9 733.6,197.3 735.0,196.0 736.7,195.2 738.6,195.3 740.4,196.1 742.0,197.2 743.6,198.4 745.1,199.8 746.5,201.2 748.0,202.5 749.4,203.9 750.8,205.4 752.2,206.8 753.5,208.3 754.8,209.8 756.0,211.4 757.3,213.0 758.5,214.6 759.7,216.2 761.0,217.7 762.2,219.3 763.5,220.8 764.9,222.3 766.2,223.8 767.6,225.2 768.9,226.7 770.3,228.2 771.7,229.6 773.2,230.9 774.8,232.0 776.6,233.0 778.5,233.6 780.4,233.8 782.4,233.7 784.3,233.1 786.0,232.2 787.6,231.0 789.1,229.7 790.6,228.4 792.2,227.2 794.0,226.3 795.8,225.5 797.7,224.8 799.6,224.3 801.6,223.8 803.5,223.4 805.5,223.1 807.5,222.8 809.5,222.7 811.5,222.8 813.4,223.1 815.4,223.5 817.3,223.9 819.3,224.4 821.2,225.0 823.1,225.5 825.1,226.0 827.0,226.6 828.9,227.1 830.9,227.6 832.8,228.0 834.8,228.4 836.7,228.9 838.7,229.3 840.6,229.7 842.6,230.1 844.5,230.6 846.5,230.9 848.5,231.3 850.4,231.7 852.4,232.0 854.4,232.3 856.4,232.5 858.4,232.7 860.4,232.8 862.4,232.9 864.4,232.9 866.3,232.8 868.3,232.6 870.3,232.4 872.3,232.1 874.3,231.8 876.3,231.5 878.2,231.3 880.2,231.0 882.2,230.8 884.2,230.6 886.2,230.4 888.2,230.2 890.2,230.0 892.2,229.9 894.2,229.7 896.2,229.6 898.2,229.4 900.2,229.3 902.2,229.3 904.2,229.2 906.2,229.2 908.2,229.3 910.2,229.4 912.1,229.6 914.1,229.8 916.1,230.0 918.1,230.2 920.1,230.3 922.1,230.5 924.1,230.6 926.1,230.7 928.1,230.7 930.1,230.7 932.1,230.7 934.1,230.6 936.1,230.5 938.1,230.5 940.1,230.4 942.1,230.3 944.1,230.2 946.1,230.0 948.1,229.9 950.1,229.7 952.1,229.6 954.1,229.4 956.0,229.2 958.0,229.0 960.0,228.7 962.0,228.4 964.0,228.1 965.9,227.8 967.9,227.4 969.9,227.0 971.8,226.5 973.7,226.0 975.7,225.5 977.6,225.1 979.6,225.0 981.6,225.2 983.5,225.5 985.5,226.0 987.4,226.6 989.3,227.2 991.2,227.8 993.2,228.3 995.1,228.7 997.1,229.1 999.0,229.4 1001.0,229.4 1003.0,229.1 1004.8,228.3 1006.5,227.3 1008.1,226.1 1009.6,224.8 1011.1,223.4 1012.6,222.1 1014.1,220.8 1015.6,219.5 1017.1,218.2 1018.6,216.9 1020.2,215.6 1021.7,214.3 1023.3,213.1 1024.9,211.9 1026.6,210.8 1028.3,209.8 1030.1,208.9 1031.9,208.2 1033.8,207.5 1035.7,207.0 1037.7,206.7 1039.7,206.8 1041.6,207.1 1043.5,207.8 1045.3,208.7 1047.0,209.8 1048.4,211.1 1049.8,212.5 1051.1,214.1 1052.3,215.7 1053.4,217.3 1054.4,219.1 1055.4,220.8 1056.3,222.6 1057.3,224.3 1058.2,226.1 1059.2,227.8 1060.3,229.5 1061.7,230.8 1063.3,231.6 1064.7,231.1 1065.5,229.4 1065.8,227.5 1066.0,225.5 1066.1,223.5 1066.2,221.5 1066.3,219.5 1066.4,217.5 1066.6,215.5 1066.7,213.5 1066.9,211.5 1067.0,209.6 1067.2,207.6 1067.3,205.6 1067.5,203.6 1067.6,201.6 1067.7,199.6 1067.8,197.6 1067.9,195.6 1068.0,193.6 1068.2,191.6 1068.3,189.6 1068.4,187.6 1068.5,185.6 1068.6,183.6 1068.6,181.6 1068.7,179.6 1068.8,177.6 1068.9,175.6 1069.0,173.6 1069.1,171.6 1069.2,169.6 1069.3,167.6 1069.4,165.6 1069.5,163.6 1069.5,161.6 1069.6,159.6 1069.7,157.6 1069.8,155.6 1069.9,153.6 1069.9,151.6 1070.0,149.6 1070.1,147.6 1070.2,145.6 1070.2,143.6 1070.3,141.6 1070.4,139.6 1070.4,137.6 1070.5,135.6 1070.6,133.6 1070.6,131.6 1070.7,129.6 1070.8,127.6 1070.8,125.6 1070.9,123.6 1071.0,121.6 1071.0,119.6 1071.1,117.6 1071.2,115.6 1071.2,113.6 1071.3,111.6 1071.3,109.7 1071.4,107.7 1071.5,105.7 1071.5,103.7 1071.6,101.7 1071.7,99.7 1071.7,97.7 1071.8,95.7 1071.8,93.7 1071.9,91.7 1072.0,89.7 1072.0,87.7 1072.1,85.7 1072.1,83.7 1072.2,81.7 1072.2,79.7 1072.3,77.7 1072.4,75.7 1072.4,73.7 1072.5,71.7 1072.5,69.7 1072.6,67.7 1072.7,65.7 1072.7,63.7 1072.8,61.7 1072.8,59.7 1072.9,57.7 1072.9,55.7 1073.0,53.7 1073.1,51.7 1073.1,49.7 1073.2,47.7 1073.2,45.7 1073.3,43.7 1073.4,41.7 1073.4,39.7 1073.5,37.7 1073.5,35.7 1073.6,33.7 1073.6,31.7 1073.7,29.7 1073.8,27.7 1073.8,25.7 1073.9,23.7 1074.0,21.7 1074.0,19.7 1074.1,17.7 1074.1,15.7 1074.2,13.7 1074.3,11.7 1074.3,9.7 1074.4,7.7 1074.4,5.7 1074.5,3.7 1074.6,1.7 1074.6,-0.3 1074.7,-2.3 1074.8,-4.3 1074.8,-6.3 1074.9,-8.3 1074.9,-10.3 1075.0,-12.3 1075.1,-14.3 1075.1,-16.3 1075.2,-18.3 1075.3,-20.3 1075.3,-22.3 1075.4,-24.3 1075.4,-26.3 1075.5,-28.3 1075.6,-30.3 1075.6,-32.3 1075.7,-34.3 1075.8,-36.3 1075.8,-38.3 1075.9,-40.3 1075.9,-42.3 1076.0,-44.3 1076.1,-46.3 1076.1,-48.3 1076.2,-50.3 1076.3,-52.3 1076.3,-54.3 1076.4,-56.3 1076.4,-58.3 1086.5,-60.0 1085.5,284.8 1083.6,284.2 1081.8,283.4 1080.0,282.4 1078.5,281.2 1077.1,279.7 1076.0,278.1 1075.1,276.3 1074.3,274.5 1073.6,272.6 1072.8,270.8 1072.1,268.9 1071.4,267.0 1070.5,265.2 1069.6,263.5 1068.6,261.8 1067.4,260.3 1066.1,259.8 1065.2,260.9 1064.8,262.8 1064.6,264.8 1064.4,266.8 1064.3,268.8 1064.1,270.8 1063.9,272.8 1063.8,274.8 1063.6,276.7 1063.5,278.7 1063.3,280.7 1063.2,282.7 1063.1,284.7 1063.0,286.7 1062.9,288.7 1062.8,290.7 1062.7,292.7 1062.6,294.7 1062.5,296.7 1062.4,298.7 1062.3,300.7 1062.2,302.7 1062.1,304.7 1062.0,306.7 1061.9,308.7 1061.8,310.7 1061.7,312.7 1061.5,314.7 1061.4,316.7 1061.2,318.7 1061.0,320.7 1060.8,322.7 1060.6,324.6 1060.4,326.6 1060.2,328.6 1059.9,330.6 1059.7,332.6 1059.4,334.6 1059.1,336.6 1058.9,338.5 1058.5,340.5 1058.2,342.5 1057.9,344.4 1057.5,346.4 1057.0,348.4 1056.6,350.3 1056.1,352.2 1055.5,354.2 1054.9,356.1 1054.3,358.0 1053.7,359.9 1053.1,361.8 1052.5,363.7 1051.8,365.6 1051.1,367.4 1050.2,369.2 1049.2,370.9 1047.9,372.3 1046.3,372.6 1044.8,371.7 1043.6,370.2 1042.5,368.5 1041.6,366.7 1040.7,364.9 1039.9,363.1 1039.1,361.2 1038.3,359.4 1037.6,357.5 1036.8,355.7 1036.1,353.8 1035.3,352.0 1034.5,350.1 1033.8,348.3 1033.1,346.4 1032.4,344.5 1031.8,342.6 1031.1,340.7 1030.5,338.8 1029.9,336.9 1029.4,335.0 1028.8,333.1 1028.2,331.2 1027.6,329.3 1027.0,327.4 1026.4,325.5 1025.8,323.5 1025.3,321.6 1024.7,319.7 1024.1,317.8 1023.5,315.9 1023.0,314.0 1022.4,312.0 1021.9,310.1 1021.3,308.2 1020.7,306.3 1020.2,304.4 1019.6,302.5 1019.0,300.5 1018.4,298.6 1017.8,296.7 1017.1,294.8 1016.4,293.0 1015.7,291.1 1015.0,289.2 1014.2,287.4 1013.4,285.5 1012.6,283.7 1011.8,281.9 1010.9,280.1 1010.0,278.3 1009.1,276.5 1008.2,274.8 1007.3,272.9 1006.5,271.1 1005.7,269.3 1004.8,267.5 1003.8,265.8 1002.7,264.1 1001.4,262.6 999.8,261.6 997.9,261.2 996.0,261.4 994.1,261.9 992.2,262.5 990.2,262.9 988.2,263.3 986.3,263.6 984.3,263.9 982.3,264.3 980.3,264.6 978.4,264.9 976.4,265.1 974.4,265.4 972.4,265.5 970.4,265.7 968.4,265.7 966.4,265.7 964.4,265.7 962.4,265.6 960.4,265.5 958.4,265.4 956.4,265.3 954.4,265.1 952.4,264.9 950.4,264.8 948.4,264.7 946.5,264.5 944.5,264.4 942.5,264.3 940.5,264.3 938.5,264.2 936.5,264.2 934.5,264.2 932.5,264.2 930.5,264.1 928.5,264.1 926.5,264.1 924.5,264.1 922.5,264.1 920.5,264.2 918.5,264.2 916.5,264.2 914.5,264.3 912.5,264.3 910.5,264.4 908.5,264.4 906.5,264.5 904.5,264.6 902.5,264.7 900.5,264.8 898.5,264.9 896.5,265.1 894.5,265.2 892.5,265.3 890.5,265.4 888.5,265.5 886.5,265.6 884.5,265.6 882.5,265.7 880.5,265.8 878.5,265.8 876.5,265.8 874.5,265.8 872.5,265.9 870.5,265.9 868.5,265.9 866.5,265.9 864.5,265.9 862.5,265.9 860.5,265.8 858.5,265.8 856.5,265.8 854.5,265.7 852.5,265.6 850.5,265.6 848.5,265.5 846.5,265.3 844.5,265.2 842.5,265.1 840.5,264.9 838.5,264.8 836.5,264.6 834.5,264.5 832.5,264.3 830.5,264.2 828.6,264.1 826.6,264.0 824.6,263.8 822.6,263.7 820.6,263.6 818.6,263.5 816.6,263.3 814.6,263.2 812.6,263.0 810.6,262.8 808.6,262.6 806.6,262.3 804.7,262.0 802.7,261.6 800.7,261.2 798.8,260.9 796.8,260.6 794.8,260.4 792.8,260.3 790.8,260.5 788.9,260.9 787.1,261.7 785.4,262.7 783.8,263.9 782.4,265.3 781.1,266.9 780.0,268.5 779.1,270.3 778.2,272.1 777.4,273.9 776.6,275.8 775.8,277.6 775.1,279.4 774.3,281.3 773.5,283.1 772.8,285.0 772.1,286.9 771.4,288.8 770.7,290.6 770.1,292.5 769.4,294.4 768.7,296.3 768.1,298.2 767.4,300.1 766.7,301.9 766.0,303.8 765.2,305.7 764.5,307.5 763.7,309.4 762.9,311.2 762.2,313.0 761.4,314.9 760.6,316.7 759.8,318.6 759.1,320.4 758.3,322.3 757.6,324.1 756.8,326.0 756.2,327.9 755.5,329.8 754.9,331.7 754.2,333.6 753.6,335.5 753.0,337.4 752.3,339.3 751.7,341.1 750.9,343.0 750.2,344.8 749.3,346.6 748.4,348.4 747.4,350.1 746.4,351.9 745.3,353.6 744.2,355.2 743.1,356.9 741.8,358.4 740.4,359.8 738.8,360.8 737.0,361.0 735.4,360.1 734.1,358.7 733.0,357.0 732.1,355.3 731.2,353.5 730.3,351.7 729.5,349.8 728.8,348.0 728.1,346.1 727.5,344.2 726.9,342.3 726.4,340.3 726.0,338.4 725.6,336.4 725.2,334.5 724.8,332.5 724.5,330.5 724.2,328.6 723.9,326.6 723.6,324.6 723.3,322.6 723.1,320.6 722.8,318.7 722.7,316.7 722.5,314.7 722.3,312.7 722.2,310.7 722.1,308.7 721.9,306.7 721.8,304.7 721.7,302.7 721.6,300.7 721.5,298.7 721.4,296.7 721.3,294.7 721.2,292.7 721.1,290.7 721.0,288.7 720.9,286.7 720.8,284.7 720.7,282.7 720.6,280.7 720.5,278.7 720.3,276.7 720.2,274.7 720.0,272.7 719.8,270.8 719.6,268.8 719.3,266.8 719.0,264.8 718.6,262.9 718.1,261.0 717.4,260.0 716.7,260.8 716.3,262.7 716.0,264.6 715.7,266.6 715.4,268.6 715.2,270.6 714.9,272.6 714.7,274.6 714.5,276.5 714.3,278.5 714.1,280.5 713.9,282.5 713.7,284.5 713.5,286.5 713.4,288.5 713.2,290.5 713.0,292.5 712.9,294.5 712.7,296.5 712.6,298.5 712.4,300.4 712.2,302.4 712.1,304.4 711.9,306.4 711.8,308.4 711.6,310.4 711.5,312.4 711.3,314.4 711.2,316.4 711.0,318.4 710.9,320.4 710.7,322.4 710.5,324.4 710.4,326.4 710.2,328.4 710.1,330.4 709.9,332.4 709.8,334.3 709.6,336.3 709.5,338.3 709.3,340.3 709.2,342.3 709.0,344.3 708.9,346.3 708.7,348.3 708.6,350.3 708.4,352.3 708.3,354.3 708.1,356.3 708.0,358.3 707.8,360.3 707.7,362.3 707.5,364.3 707.4,366.3 707.2,368.3 707.1,370.2 706.9,372.2 706.8,374.2 706.6,376.2 706.5,378.2 706.3,380.2 706.2,382.2 706.0,384.2 705.9,386.2 705.8,388.2 705.6,390.2 705.5,392.2 705.3,394.2 705.2,396.2 705.1,398.2 704.9,400.2 704.8,402.2 704.6,404.2 704.5,406.2 704.4,408.2 704.2,410.1 704.1,412.1 704.0,414.1 703.8,416.1 703.7,418.1 703.6,420.1 703.5,422.1 703.3,424.1 703.2,426.1 703.1,428.1 703.0,430.1 702.8,432.1 702.7,434.1 702.6,436.1 702.5,438.1 702.3,440.1 702.2,442.1 702.1,444.1 702.0,446.1 701.9,448.1 701.8,450.1 701.7,452.1 701.6,454.1 701.5,456.1 701.3,458.1 701.2,460.1 701.1,462.1 701.0,464.1 700.9,466.0 700.9,468.0 700.8,470.0 700.7,472.0 700.6,474.0 700.5,476.0 700.4,478.0 700.3,480.0 700.2,482.0 700.1,484.0 700.1,486.0 700.0,488.0 699.9,490.0 699.8,492.0 699.8,494.0 699.7,496.0 699.6,498.0 699.6,500.0 699.5,502.0 699.4,504.0 699.4,506.0 699.3,508.0 699.3,510.0 699.2,512.0 699.2,514.0 699.1,516.0 699.1,518.0 699.0,520.0 699.0,522.0 698.9,524.0 698.9,526.0 698.9,528.0 698.8,530.0 698.8,532.0 698.7,534.0 698.7,536.0 698.7,538.0 698.6,540.0 698.6,542.0 698.6,544.0 698.5,546.0 698.5,548.0 698.5,550.0 698.4,552.0 698.4,554.0 698.4,556.0 698.4,558.0 698.3,560.0 698.3,562.0 698.3,564.0 698.3,566.0 698.2,568.0 698.2,570.0 698.2,572.0 698.2,574.0 698.1,576.0 698.1,578.0 698.1,580.0 698.1,582.0 698.1,584.0 698.0,586.0 698.0,588.0 698.0,590.0 698.0,592.0 697.9,594.0 697.9,596.0 697.9,598.0 697.9,600.0 697.8,602.0 697.8,604.0 697.8,606.0 697.8,608.0 697.7,610.0 697.7,612.0 697.7,614.0 697.7,616.0 697.6,618.0 697.6,620.0 697.6,622.0 697.6,624.0 697.5,626.0 697.5,628.0 697.5,630.0 697.4,632.0 697.4,634.0 697.4,636.0 697.3,638.0 697.3,640.0" fill="#dc2326" fill-opacity="0.30"/>
<path d="M712.6 600.0 L712.8 585.2 L713.1 570.6 L713.3 556.1 L713.5 541.5 L713.7 526.8 L714.0 511.9 L714.2 496.6 L714.4 481.0 L714.6 462.1 L714.9 442.2 L715.2 421.7 L715.4 401.0 L715.6 380.5 L715.9 360.7 L716.1 342.1 L716.3 325.0 L716.4 314.0 L716.6 303.7 L716.7 293.9 L716.8 284.4 L716.9 275.2 L717.0 266.0 L717.2 256.7 L717.3 247.0 L717.5 237.0 L717.7 227.2 L717.8 217.5 L718.1 207.7 L718.3 197.7 L718.5 187.3 L718.7 176.5 L718.9 165.0 L719.2 148.0 L719.5 129.5 L719.8 110.0 L720.2 89.9 L720.5 69.7 L720.8 49.9 L721.1 31.0 L721.4 13.5 L721.6 0.7 L721.8 -11.5 L722.0 -23.2 L722.2 -34.7 L722.4 -45.9 L722.6 -57.2 L722.8 -68.5 L723.0 -80.0" fill="none" stroke="#46788e" stroke-width="6.6" stroke-linejoin="round" stroke-linecap="butt"/>
<path d="M756.0 -80.0 L756.1 -78.0 L756.2 -76.0 L756.3 -74.0 L756.4 -72.0 L756.5 -70.0 L756.5 -68.0 L756.6 -66.0 L756.7 -64.0 L756.8 -62.0 L756.9 -60.0 L757.0 -58.0 L757.1 -56.0 L757.1 -54.0 L757.2 -52.0 L757.3 -50.0 L757.4 -48.0 L757.5 -46.0 L757.6 -44.0 L757.6 -42.0 L757.7 -40.0 L757.8 -38.0 L757.9 -36.0 L758.0 -34.0 L758.1 -32.0 L758.2 -30.0 L758.3 -28.0 L758.3 -26.1 L758.4 -24.1 L758.5 -22.1 L758.6 -20.1 L758.7 -18.1 L758.8 -16.1 L758.9 -14.1 L759.0 -12.1 L759.1 -10.1 L759.2 -8.1 L759.3 -6.1 L759.4 -4.1 L759.6 -2.1 L759.7 -0.1 L759.8 1.9 L759.9 3.9 L760.0 5.9 L760.2 7.9 L760.3 9.9 L760.4 11.9 L760.5 13.9 L760.7 15.9 L760.8 17.9 L760.9 19.9 L761.1 21.9 L761.2 23.9 L761.3 25.9 L761.5 27.9 L761.6 29.9 L761.7 31.8 L761.9 33.8 L762.0 35.8 L762.1 37.8 L762.3 39.8 L762.4 41.8 L762.6 43.8 L762.7 45.8 L762.9 47.8 L763.0 49.8 L763.1 51.8 L763.3 53.8 L763.4 55.8 L763.6 57.8 L763.7 59.8 L763.9 61.8 L764.0 63.8 L764.2 65.8 L764.3 67.8 L764.5 69.8 L764.6 71.7 L764.8 73.7 L764.9 75.7 L765.1 77.7 L765.2 79.7 L765.4 81.7 L765.5 83.7 L765.7 85.7 L765.8 87.7 L766.0 89.7 L766.2 91.7 L766.3 93.7 L766.5 95.7 L766.6 97.7 L766.8 99.7 L767.0 101.7 L767.1 103.6 L767.3 105.6 L767.4 107.6 L767.6 109.6 L767.8 111.6 L768.0 113.6 L768.1 115.6 L768.3 117.6 L768.5 119.6 L768.6 121.6 L768.8 123.6 L769.0 125.6 L769.2 127.6 L769.4 129.5 L769.5 131.5 L769.7 133.5 L769.9 135.5 L770.1 137.5 L770.3 139.5 L770.5 141.5 L770.7 143.5 L770.9 145.5 L771.1 147.5 L771.3 149.5 L771.5 151.4 L771.7 153.4 L771.9 155.4 L772.1 157.4 L772.4 159.4 L772.6 161.4 L772.8 163.4 L773.1 165.4 L773.3 167.3 L773.6 169.3 L773.9 171.3 L774.2 173.3 L774.5 175.3 L774.8 177.2 L775.1 179.2 L775.4 181.2 L775.8 183.1 L776.1 185.1 L776.5 187.1 L776.9 189.0 L777.2 191.0 L777.6 193.0 L778.0 194.9 L778.3 196.9 L778.6 198.9 L779.0 200.9 L779.3 202.8 L779.6 204.8 L779.9 206.8 L780.2 208.8 L780.5 210.7 L780.8 212.7 L781.1 214.7 L781.4 216.7 L781.7 218.7 L781.9 220.6 L782.2 222.6 L782.5 224.6 L782.9 226.6 L783.2 228.5 L783.5 230.5 L783.9 232.5 L784.2 234.5 L784.6 236.4 L785.0 238.4 L785.4 240.3 L785.9 242.3 L786.4 244.2 L786.8 246.2 L787.3 248.1 L787.9 250.0 L788.4 251.9 L789.0 253.9 L789.5 255.8 L790.1 257.7 L790.7 259.6 L791.3 261.5 L791.9 263.4 L792.6 265.3 L793.3 267.2 L794.1 269.0 L795.0 270.7 L796.1 272.4 L797.4 273.7 L798.8 274.6 L800.4 274.9 L802.0 274.4 L803.6 273.5 L805.1 272.3 L806.6 270.9 L808.0 269.5 L809.4 268.1 L810.7 266.6 L812.0 265.1 L813.3 263.5 L814.5 261.9 L815.7 260.3 L816.8 258.7 L817.9 257.0 L819.0 255.3 L820.0 253.6 L821.1 251.9 L822.2 250.3 L823.3 248.6 L824.5 247.0 L825.8 245.5 L827.1 244.0 L828.5 242.6 L830.0 241.2 L831.6 240.0 L833.2 239.0 L835.0 238.1 L836.8 237.4 L838.7 237.0 L840.7 237.0 L842.6 237.3 L844.4 237.9 L846.2 238.7 L848.0 239.6 L849.6 240.7 L851.3 241.9 L852.8 243.1 L854.3 244.4 L855.8 245.8 L857.3 247.1 L858.8 248.5 L860.2 249.9 L861.6 251.3 L863.1 252.7 L864.5 254.1 L865.9 255.5 L867.3 256.9 L868.8 258.2 L870.2 259.6 L871.7 261.0 L873.2 262.3 L874.7 263.6 L876.2 264.9 L877.8 266.1 L879.5 267.2 L881.2 268.2 L883.0 269.1 L884.8 270.0 L886.6 270.6 L888.6 271.1 L890.5 271.2 L892.4 271.1 L894.4 270.7 L896.3 270.1 L898.1 269.4 L899.9 268.5 L901.6 267.5 L903.3 266.4 L904.9 265.3 L906.5 264.1 L908.1 262.8 L909.6 261.5 L911.1 260.2 L912.7 259.0 L914.2 257.7 L915.7 256.4 L917.3 255.1 L918.8 253.8 L920.3 252.5 L921.8 251.2 L923.3 249.8 L924.7 248.5 L926.1 247.0 L927.4 245.5 L928.7 244.0 L930.0 242.5 L931.3 241.0 L932.7 239.6 L934.3 238.4 L935.9 237.4 L937.7 236.7 L939.6 236.4 L941.5 236.5 L943.3 237.1 L945.0 237.9 L946.7 239.0 L948.2 240.3 L949.6 241.7 L950.9 243.2 L952.2 244.7 L953.4 246.3 L954.6 247.9 L955.8 249.5 L957.0 251.1 L958.2 252.7 L959.3 254.4 L960.4 256.0 L961.6 257.7 L962.7 259.3 L963.8 261.0 L964.9 262.7 L966.0 264.3 L967.0 266.0 L968.1 267.7 L969.1 269.5 L970.2 271.1 L971.3 272.8 L972.5 274.4 L973.7 276.0 L975.0 277.5 L976.3 278.9 L977.8 280.3 L979.3 281.4 L980.9 282.0 L982.5 282.0 L983.9 281.3 L985.2 280.0 L986.2 278.4 L987.1 276.6 L987.9 274.8 L988.6 272.9 L989.3 271.1 L990.0 269.2 L990.7 267.3 L991.3 265.4 L991.9 263.5 L992.5 261.6 L993.0 259.6 L993.5 257.7 L994.0 255.8 L994.5 253.8 L995.0 251.9 L995.4 249.9 L995.8 248.0 L996.2 246.0 L996.6 244.1 L997.0 242.1 L997.4 240.1 L997.7 238.2 L998.0 236.2 L998.4 234.2 L998.7 232.2 L999.0 230.3 L999.2 228.3 L999.5 226.3 L999.8 224.3 L1000.1 222.3 L1000.3 220.4 L1000.6 218.4 L1000.9 216.4 L1001.2 214.4 L1001.4 212.4 L1001.7 210.4 L1002.0 208.5 L1002.3 206.5 L1002.6 204.5 L1002.9 202.5 L1003.2 200.6 L1003.5 198.6 L1003.8 196.6 L1004.1 194.6 L1004.5 192.7 L1004.8 190.7 L1005.2 188.7 L1005.5 186.8 L1005.9 184.8 L1006.2 182.8 L1006.6 180.8 L1006.9 178.9 L1007.2 176.9 L1007.5 174.9 L1007.8 172.9 L1008.0 171.0 L1008.3 169.0 L1008.5 167.0 L1008.8 165.0 L1009.0 163.0 L1009.2 161.0 L1009.4 159.0 L1009.6 157.1 L1009.8 155.1 L1010.0 153.1 L1010.2 151.1 L1010.4 149.1 L1010.6 147.1 L1010.8 145.1 L1011.0 143.1 L1011.1 141.1 L1011.3 139.1 L1011.5 137.1 L1011.6 135.1 L1011.8 133.2 L1012.0 131.2 L1012.1 129.2 L1012.3 127.2 L1012.5 125.2 L1012.6 123.2 L1012.8 121.2 L1012.9 119.2 L1013.1 117.2 L1013.2 115.2 L1013.4 113.2 L1013.5 111.2 L1013.7 109.2 L1013.8 107.2 L1014.0 105.2 L1014.1 103.2 L1014.3 101.2 L1014.4 99.2 L1014.5 97.3 L1014.7 95.3 L1014.8 93.3 L1015.0 91.3 L1015.1 89.3 L1015.2 87.3 L1015.4 85.3 L1015.5 83.3 L1015.7 81.3 L1015.8 79.3 L1015.9 77.3 L1016.1 75.3 L1016.2 73.3 L1016.3 71.3 L1016.5 69.3 L1016.6 67.3 L1016.7 65.3 L1016.9 63.3 L1017.0 61.3 L1017.1 59.3 L1017.3 57.3 L1017.4 55.4 L1017.5 53.4 L1017.7 51.4 L1017.8 49.4 L1017.9 47.4 L1018.1 45.4 L1018.2 43.4 L1018.3 41.4 L1018.5 39.4 L1018.6 37.4 L1018.7 35.4 L1018.9 33.4 L1019.0 31.4 L1019.1 29.4 L1019.3 27.4 L1019.4 25.4 L1019.5 23.4 L1019.7 21.4 L1019.8 19.4 L1019.9 17.4 L1020.1 15.4 L1020.2 13.4 L1020.3 11.4 L1020.5 9.5 L1020.6 7.5 L1020.7 5.5 L1020.9 3.5 L1021.0 1.5 L1021.1 -0.5 L1021.3 -2.5 L1021.4 -4.5 L1021.5 -6.5 L1021.7 -8.5 L1021.8 -10.5 L1021.9 -12.5 L1022.0 -14.5 L1022.2 -16.5 L1022.3 -18.5 L1022.4 -20.5 L1022.5 -22.5 L1022.7 -24.5 L1022.8 -26.5 L1022.9 -28.5 L1023.0 -30.5 L1023.1 -32.5 L1023.3 -34.5 L1023.4 -36.5 L1023.5 -38.4 L1023.6 -40.4 L1023.7 -42.4 L1023.9 -44.4 L1024.0 -46.4 L1024.1 -48.4 L1024.2 -50.4 L1024.3 -52.4 L1024.5 -54.4 L1024.6 -56.4 L1024.7 -58.4 L1024.8 -60.4 L1024.9 -62.4 L1025.1 -64.4 L1025.2 -66.4 L1025.3 -68.4 L1025.4 -70.4 L1025.5 -72.4 L1025.7 -74.4 L1025.8 -76.4 L1025.9 -78.4" fill="none" stroke="#46788e" stroke-width="6.6" stroke-linejoin="round" stroke-linecap="butt"/>
<path d="M1060.5 -80.0 L1060.7 -68.5 L1060.9 -57.2 L1061.1 -45.9 L1061.3 -34.7 L1061.5 -23.2 L1061.7 -11.5 L1061.9 0.7 L1062.1 13.5 L1062.4 31.0 L1062.7 49.9 L1063.1 69.7 L1063.4 89.9 L1063.8 110.0 L1064.1 129.5 L1064.4 148.0 L1064.7 165.0 L1064.9 176.4 L1065.0 187.3 L1065.1 197.6 L1065.2 207.6 L1065.3 217.4 L1065.5 227.1 L1065.6 236.8 L1065.7 246.8 L1065.8 256.5 L1066.0 265.9 L1066.1 275.1 L1066.2 284.4 L1066.4 293.8 L1066.5 303.6 L1066.7 314.0 L1066.8 325.0 L1067.0 342.0 L1067.2 360.5 L1067.5 380.0 L1067.7 400.3 L1067.9 420.8 L1068.2 441.2 L1068.4 460.9 L1068.6 479.7 L1068.8 495.5 L1069.0 510.8 L1069.1 525.9 L1069.3 540.8 L1069.5 555.6 L1069.7 570.3 L1069.8 585.1 L1070.0 600.0" fill="none" stroke="#46788e" stroke-width="6.6" stroke-linejoin="round" stroke-linecap="butt"/>
<circle cx="717.3" cy="246.8" r="8.1" fill="#313e43" fill-opacity="0.7"/><circle cx="787.0" cy="246.8" r="8.1" fill="#313e43" fill-opacity="0.7"/><circle cx="856.7" cy="246.8" r="8.1" fill="#313e43" fill-opacity="0.7"/><circle cx="926.5" cy="246.8" r="8.1" fill="#313e43" fill-opacity="0.7"/><circle cx="996.2" cy="246.8" r="8.1" fill="#313e43" fill-opacity="0.7"/><circle cx="1065.9" cy="246.8" r="8.1" fill="#313e43" fill-opacity="0.7"/>
<path d="M698.6 144.3 L698.9 146.9 L699.2 149.4 L699.4 151.9 L699.7 154.4 L700.0 157.0 L700.3 159.6 L700.6 162.2 L701.0 165.0 L701.5 168.4 L701.9 171.9 L702.5 175.5 L703.0 179.2 L703.5 182.9 L704.1 186.7 L704.8 190.5 L705.4 194.2 L706.1 198.2 L706.9 202.3 L707.7 206.5 L708.5 210.6 L709.4 214.7 L710.2 218.8 L711.1 222.6 L711.9 226.3 L712.6 229.1 L713.2 231.8 L713.8 234.4 L714.4 236.9 L715.1 239.4 L715.8 241.9 L716.5 244.3 L717.3 246.8 L718.2 249.3 L719.1 251.8 L720.0 254.4 L721.0 256.9 L722.1 259.3 L723.1 261.6 L724.1 263.8 L725.1 265.7 L725.8 266.9 L726.4 268.0 L727.0 269.1 L727.7 270.0 L728.4 271.0 L729.0 271.8 L729.7 272.7 L730.5 273.5 L731.2 274.2 L732.0 274.9 L732.7 275.6 L733.5 276.3 L734.3 276.9 L735.1 277.4 L736.0 277.8 L736.8 278.1 L737.5 278.3 L738.3 278.3 L739.1 278.3 L739.9 278.2 L740.6 278.1 L741.4 277.9 L742.2 277.7 L743.0 277.5 L743.8 277.3 L744.7 277.0 L745.5 276.7 L746.3 276.3 L747.2 275.9 L748.0 275.5 L748.9 275.0 L749.9 274.5 L751.5 273.6 L753.2 272.5 L755.1 271.3 L756.9 270.0 L758.9 268.6 L760.8 267.2 L762.7 265.7 L764.5 264.3 L766.4 262.7 L768.3 261.0 L770.2 259.2 L772.1 257.4 L773.9 255.7 L775.7 254.0 L777.5 252.4 L779.1 251.1 L780.2 250.3 L781.2 249.5 L782.1 248.8 L783.0 248.2 L784.0 247.6 L784.9 247.0 L786.0 246.5 L787.1 246.0 L788.6 245.4 L790.3 244.9 L792.0 244.5 L793.9 244.1 L795.7 243.8 L797.5 243.5 L799.3 243.3 L801.0 243.1 L802.4 243.0 L803.8 242.9 L805.2 242.8 L806.5 242.8 L807.9 242.8 L809.2 242.8 L810.6 242.9 L812.0 243.0 L813.6 243.1 L815.2 243.4 L816.8 243.6 L818.4 243.9 L820.0 244.2 L821.7 244.5 L823.3 244.7 L825.0 245.0 L826.7 245.2 L828.4 245.5 L830.1 245.7 L831.7 245.9 L833.5 246.2 L835.3 246.4 L837.2 246.6 L839.2 246.8 L842.3 247.1 L845.8 247.5 L849.4 247.9 L853.1 248.2 L857.0 248.5 L860.9 248.8 L864.7 248.9 L868.4 249.0 L872.0 248.9 L875.7 248.7 L879.3 248.4 L883.0 248.1 L886.6 247.7 L890.3 247.4 L893.9 247.0 L897.6 246.8 L901.2 246.6 L904.8 246.5 L908.4 246.3 L912.0 246.2 L915.6 246.1 L919.3 246.0 L923.0 246.0 L926.8 246.0 L931.3 246.1 L936.1 246.3 L941.1 246.6 L946.1 246.9 L950.9 247.2 L955.5 247.4 L959.7 247.5 L963.3 247.5 L965.1 247.4 L966.6 247.3 L968.0 247.1 L969.3 247.0 L970.6 246.8 L972.0 246.6 L973.4 246.4 L975.0 246.3 L977.4 246.1 L979.9 245.9 L982.7 245.6 L985.5 245.4 L988.3 245.2 L991.0 245.1 L993.6 245.1 L996.0 245.3 L997.8 245.5 L999.5 245.8 L1001.1 246.1 L1002.7 246.5 L1004.2 246.9 L1005.7 247.5 L1007.3 248.2 L1008.8 249.0 L1010.7 250.2 L1012.6 251.7 L1014.4 253.3 L1016.3 255.0 L1018.1 256.9 L1019.9 258.9 L1021.6 260.8 L1023.4 262.8 L1025.3 265.0 L1027.3 267.5 L1029.2 270.0 L1031.1 272.6 L1033.0 275.1 L1034.7 277.5 L1036.4 279.8 L1038.0 281.8 L1039.0 283.0 L1039.9 284.2 L1040.8 285.3 L1041.7 286.4 L1042.5 287.4 L1043.4 288.3 L1044.2 289.2 L1045.0 290.0 L1045.6 290.6 L1046.2 291.2 L1046.8 291.8 L1047.4 292.3 L1048.0 292.8 L1048.5 293.1 L1049.1 293.4 L1049.7 293.5 L1050.2 293.5 L1050.8 293.3 L1051.4 293.1 L1051.9 292.8 L1052.5 292.4 L1053.0 292.0 L1053.5 291.5 L1054.0 291.0 L1054.6 290.3 L1055.2 289.5 L1055.8 288.7 L1056.3 287.7 L1056.9 286.7 L1057.4 285.6 L1057.9 284.4 L1058.4 283.2 L1059.2 280.9 L1060.1 278.3 L1060.9 275.5 L1061.6 272.4 L1062.4 269.3 L1063.1 266.1 L1063.7 263.0 L1064.3 259.9 L1064.8 256.9 L1065.2 253.9 L1065.6 250.9 L1065.9 247.9 L1066.2 244.8 L1066.5 241.7 L1066.8 238.4 L1067.2 235.0 L1067.7 230.3 L1068.3 225.3 L1068.8 220.1 L1069.4 214.8 L1070.0 209.4 L1070.6 204.2 L1071.1 199.0 L1071.6 194.2 L1072.0 190.5 L1072.4 187.1 L1072.7 183.9 L1073.1 180.7 L1073.4 177.4 L1073.8 173.8 L1074.1 169.7 L1074.5 165.0 L1075.4 151.6 L1076.3 134.6 L1077.3 115.2 L1078.3 94.4 L1079.3 73.2 L1080.2 52.7 L1081.1 33.9 L1081.8 18.0 L1082.2 9.5 L1082.6 1.6 L1082.9 -5.7 L1083.2 -12.7 L1083.6 -19.4 L1083.9 -26.1 L1084.2 -32.9 L1084.5 -40.0" fill="none" stroke="#dc2326" stroke-width="6.6" stroke-linejoin="round" stroke-dasharray="13.05 6.52" stroke-linecap="butt"/>
<circle cx="717.3" cy="246.8" r="8.1" fill="#313e43" fill-opacity="0.7"/><circle cx="787.0" cy="246.8" r="8.1" fill="#313e43" fill-opacity="0.7"/><circle cx="856.7" cy="246.8" r="8.1" fill="#313e43" fill-opacity="0.7"/><circle cx="926.5" cy="246.8" r="8.1" fill="#313e43" fill-opacity="0.7"/><circle cx="996.2" cy="246.8" r="8.1" fill="#313e43" fill-opacity="0.7"/><circle cx="1065.9" cy="246.8" r="8.1" fill="#313e43" fill-opacity="0.7"/>
</g>
<g clip-path="url(#c10)">
<rect x="164.7" y="543.8" width="35.1" height="470.1" fill="#808080"/>
<rect x="593.4" y="543.8" width="35.1" height="470.1" fill="#808080"/>
<path d="M254.8 543.8v12.0 M254.8 1013.9v-12.0 M396.7 543.8v12.0 M396.7 1013.9v-12.0 M538.3 543.8v12.0 M538.3 1013.9v-12.0 M164.7 661.3h12.0 M628.5 661.3h-12.0 M164.7 778.9h12.0 M628.5 778.9h-12.0 M164.7 896.4h12.0 M628.5 896.4h-12.0" stroke="#000" stroke-width="2.1" fill="none"/>
<polygon points="198.1,709.6 202.4,730.0 207.4,760.2 214.5,747.0 218.3,745.4 223.8,749.8 232.6,761.8 233.9,762.9 235.2,764.0 236.4,765.1 237.7,766.1 239.1,766.8 240.3,767.2 241.5,767.3 242.7,767.4 244.1,767.3 245.7,767.3 249.3,767.1 253.7,766.7 258.4,766.1 263.2,765.5 267.6,765.1 271.2,764.8 274.8,764.5 278.3,764.2 281.7,764.0 285.1,764.0 288.1,764.2 290.9,764.5 293.7,764.9 296.7,765.3 300.0,765.7 305.4,766.2 311.2,766.8 317.5,767.3 324.1,767.7 330.7,767.9 338.9,767.8 347.7,767.3 356.6,766.8 365.3,766.2 373.3,765.7 379.0,765.4 384.3,765.2 389.4,764.9 394.6,764.8 400.0,764.7 406.3,764.7 412.6,764.9 419.2,765.1 425.8,765.4 432.7,765.7 441.1,766.2 450.0,766.8 459.0,767.4 467.6,767.8 475.3,767.9 479.9,767.6 484.0,767.1 488.0,766.6 492.1,766.0 496.7,765.7 504.6,765.7 513.6,766.0 522.9,766.4 531.8,766.7 539.3,766.8 543.3,766.8 547.0,767.0 550.4,767.0 553.5,766.7 556.4,765.7 558.9,764.0 561.1,761.8 563.1,759.2 565.1,756.5 567.1,754.0 574.5,747.6 579.9,750.8 584.6,759.3 590.5,732.7 595.0,704.9 595.0,891.4 592.7,870.0 589.5,828.7 585.2,798.8 582.0,801.0 573.5,804.6 560.7,798.8 557.3,798.9 553.8,799.0 550.3,799.1 546.9,799.0 543.6,798.8 540.6,798.3 537.8,797.7 535.0,797.0 532.0,796.2 528.7,795.6 523.1,794.8 516.8,794.0 510.1,793.3 503.3,792.7 496.7,792.4 490.3,792.5 483.9,792.9 477.5,793.4 471.1,793.8 464.7,793.9 458.3,793.6 451.9,793.1 445.5,792.4 439.1,791.8 432.7,791.3 426.1,791.0 419.5,790.7 412.9,790.5 406.3,790.3 400.0,790.3 394.6,790.4 389.4,790.5 384.3,790.7 379.0,791.0 373.3,791.3 365.3,791.9 356.6,792.7 347.7,793.5 338.9,794.1 330.7,794.5 324.2,794.5 317.8,794.4 311.6,794.1 305.7,793.8 300.0,793.5 295.3,793.1 290.8,792.6 286.4,792.2 282.3,791.9 278.5,791.9 276.1,792.1 274.0,792.5 271.9,792.9 269.8,793.5 267.6,794.1 264.5,795.1 261.3,796.4 257.9,797.7 254.6,798.8 251.2,799.6 247.9,799.9 244.6,799.8 241.3,799.5 238.0,799.2 234.7,799.0 226.0,801.8 218.3,804.5 209.6,799.0 207.5,799.5 206.3,806.1 203.5,835.7 198.1,904.0" fill="#46788e" fill-opacity="0.30"/>
<path d="M198.9 806.3 L199.4 804.5 L199.9 802.6 L200.3 800.8 L200.8 798.9 L201.3 797.1 L201.9 795.2 L202.6 793.1 L203.2 791.0 L204.0 788.9 L204.7 786.8 L205.5 784.8 L206.3 783.1 L206.9 782.0 L207.4 780.9 L208.0 780.0 L208.6 779.1 L209.3 778.3 L210.0 777.5 L210.7 776.9 L211.6 776.2 L212.4 775.7 L213.3 775.2 L214.1 774.9 L215.0 774.6 L215.7 774.5 L216.5 774.4 L217.3 774.5 L218.0 774.6 L218.8 774.7 L219.5 774.8 L220.2 774.9 L220.9 775.1 L221.5 775.3 L222.2 775.5 L223.0 775.7 L223.8 776.0 L225.3 776.6 L227.1 777.5 L228.9 778.4 L230.9 779.3 L232.8 780.2 L234.7 780.9 L236.5 781.5 L238.3 781.9 L240.2 782.4 L242.0 782.7 L243.9 783.0 L245.7 783.1 L247.5 783.1 L249.3 783.0 L251.0 782.9 L252.8 782.6 L254.7 782.3 L256.6 782.0 L259.2 781.5 L261.9 780.9 L264.6 780.1 L267.5 779.4 L270.3 778.7 L273.1 778.2 L275.9 777.8 L278.7 777.4 L281.5 777.1 L284.3 776.8 L287.0 776.7 L289.5 776.6 L291.4 776.6 L293.1 776.7 L294.8 776.8 L296.5 777.0 L298.2 777.2 L300.0 777.5 L302.3 777.9 L304.8 778.4 L307.3 779.0 L309.9 779.6 L312.4 780.1 L315.0 780.5 L317.6 780.8 L320.1 781.1 L322.7 781.4 L325.3 781.6 L328.0 781.7 L330.7 781.7 L333.8 781.5 L336.9 781.2 L340.1 780.8 L343.4 780.3 L346.7 779.9 L350.0 779.5 L353.7 779.1 L357.5 778.8 L361.4 778.4 L365.3 778.1 L369.3 777.8 L373.3 777.5 L377.7 777.2 L382.2 777.0 L386.7 776.8 L391.2 776.6 L395.7 776.5 L400.0 776.4 L403.7 776.3 L407.3 776.2 L410.9 776.2 L414.4 776.2 L418.1 776.3 L422.0 776.4 L427.0 776.8 L432.4 777.3 L437.8 777.9 L443.4 778.6 L448.8 779.1 L454.0 779.6 L458.4 779.9 L462.7 780.2 L467.0 780.5 L471.2 780.7 L475.4 780.8 L479.6 780.7 L483.9 780.3 L488.2 779.7 L492.5 779.0 L496.8 778.2 L501.0 777.7 L505.2 777.5 L509.2 777.7 L513.2 778.1 L517.2 778.7 L521.1 779.4 L524.9 780.1 L528.7 780.7 L532.1 781.2 L535.4 781.8 L538.7 782.4 L541.9 782.8 L545.0 783.1 L547.9 783.2 L550.2 783.0 L552.3 782.8 L554.4 782.3 L556.5 781.9 L558.6 781.3 L560.7 780.7 L563.2 779.9 L565.7 778.8 L568.2 777.6 L570.8 776.6 L573.2 775.7 L575.6 775.3 L577.5 775.2 L579.5 775.3 L581.4 775.6 L583.2 776.0 L584.8 776.7 L586.3 777.5 L587.5 778.5 L588.5 779.8 L589.4 781.2 L590.2 782.8 L590.9 784.4 L591.6 786.0 L592.3 787.8 L592.9 789.7 L593.4 791.7 L593.9 793.8 L594.4 795.8 L594.9 797.8" fill="none" stroke="#46788e" stroke-width="6.6" stroke-linejoin="round" stroke-linecap="square"/>
<circle cx="207.2" cy="778.7" r="8.1" fill="#313e43" fill-opacity="0.7"/><circle cx="234.3" cy="778.7" r="8.1" fill="#313e43" fill-opacity="0.7"/><circle cx="261.4" cy="778.7" r="8.1" fill="#313e43" fill-opacity="0.7"/><circle cx="288.4" cy="778.7" r="8.1" fill="#313e43" fill-opacity="0.7"/><circle cx="315.5" cy="778.7" r="8.1" fill="#313e43" fill-opacity="0.7"/><circle cx="342.6" cy="778.7" r="8.1" fill="#313e43" fill-opacity="0.7"/><circle cx="369.6" cy="778.7" r="8.1" fill="#313e43" fill-opacity="0.7"/><circle cx="396.7" cy="778.7" r="8.1" fill="#313e43" fill-opacity="0.7"/><circle cx="423.8" cy="778.7" r="8.1" fill="#313e43" fill-opacity="0.7"/><circle cx="450.8" cy="778.7" r="8.1" fill="#313e43" fill-opacity="0.7"/><circle cx="477.9" cy="778.7" r="8.1" fill="#313e43" fill-opacity="0.7"/><circle cx="505.0" cy="778.7" r="8.1" fill="#313e43" fill-opacity="0.7"/><circle cx="532.0" cy="778.7" r="8.1" fill="#313e43" fill-opacity="0.7"/><circle cx="559.1" cy="778.7" r="8.1" fill="#313e43" fill-opacity="0.7"/><circle cx="586.2" cy="778.7" r="8.1" fill="#313e43" fill-opacity="0.7"/>
</g>
<g clip-path="url(#c11)">
<rect x="659.7" y="543.8" width="39.2" height="470.1" fill="#808080"/>
<rect x="1084.1" y="543.8" width="39.5" height="470.1" fill="#808080"/>
<path d="M763.6 543.8v12.0 M763.6 1013.9v-12.0 M891.8 543.8v12.0 M891.8 1013.9v-12.0 M1019.6 543.8v12.0 M1019.6 1013.9v-12.0 M659.7 661.3h12.0 M1123.6 661.3h-12.0 M659.7 778.9h12.0 M1123.6 778.9h-12.0 M659.7 896.4h12.0 M1123.6 896.4h-12.0" stroke="#000" stroke-width="2.1" fill="none"/>
<polygon points="698.3,791.4 699.3,789.7 700.3,787.9 701.3,786.2 702.3,784.5 703.3,782.8 704.3,781.0 705.3,779.3 706.3,777.6 707.3,775.8 708.3,774.1 709.3,772.4 710.3,770.6 711.3,768.9 712.2,767.1 713.2,765.4 714.2,763.6 715.1,761.9 716.1,760.1 717.1,758.4 718.0,756.6 719.0,754.9 720.0,753.1 721.0,751.4 722.0,749.7 723.0,747.9 724.0,746.2 725.0,744.5 726.1,742.8 727.3,741.2 728.7,739.8 730.1,738.4 731.7,737.3 733.4,736.3 735.2,735.5 737.1,734.9 739.1,734.7 741.0,734.8 743.0,735.1 744.9,735.7 746.7,736.5 748.5,737.3 750.3,738.3 752.0,739.3 753.6,740.4 755.2,741.6 756.7,742.9 758.3,744.2 759.7,745.6 761.2,746.9 762.7,748.2 764.2,749.5 765.7,750.9 767.2,752.2 768.7,753.5 770.2,754.8 771.7,756.1 773.3,757.4 774.8,758.6 776.5,759.8 778.1,761.0 779.8,762.0 781.5,763.1 783.3,764.0 785.0,764.9 786.9,765.7 788.7,766.5 790.6,767.2 792.5,767.7 794.4,768.2 796.4,768.7 798.4,769.0 800.3,769.4 802.3,769.6 804.3,769.8 806.3,770.0 808.3,770.1 810.3,770.1 812.3,770.1 814.3,770.0 816.3,769.9 818.3,769.8 820.3,769.6 822.3,769.4 824.2,769.2 826.2,768.9 828.2,768.7 830.2,768.4 832.2,768.1 834.1,767.7 836.1,767.4 838.1,767.0 840.0,766.6 842.0,766.2 843.9,765.7 845.9,765.3 847.8,764.9 849.8,764.5 851.8,764.1 853.7,763.6 855.7,763.2 857.6,762.8 859.6,762.4 861.5,762.0 863.5,761.6 865.5,761.2 867.4,760.8 869.4,760.4 871.3,760.1 873.3,759.7 875.3,759.4 877.3,759.1 879.2,758.8 881.2,758.5 883.2,758.2 885.2,758.0 887.2,757.7 889.2,757.6 891.2,757.5 893.2,757.4 895.2,757.4 897.2,757.5 899.1,757.7 901.1,757.9 903.1,758.2 905.1,758.6 907.0,758.9 909.0,759.4 910.9,759.9 912.9,760.4 914.8,760.9 916.7,761.5 918.6,762.1 920.5,762.8 922.3,763.5 924.2,764.3 926.0,765.1 927.8,765.9 929.7,766.7 931.5,767.6 933.3,768.5 935.1,769.3 936.9,770.1 938.7,770.9 940.6,771.7 942.4,772.5 944.3,773.2 946.2,773.8 948.1,774.4 950.0,775.0 951.9,775.6 953.8,776.2 955.8,776.7 957.7,777.2 959.6,777.7 961.6,778.1 963.5,778.5 965.5,778.8 967.5,779.1 969.5,779.2 971.5,779.2 973.5,779.1 975.5,778.9 977.4,778.5 979.3,778.0 981.2,777.3 983.0,776.5 984.8,775.7 986.6,774.7 988.2,773.5 989.8,772.3 991.3,771.0 992.7,769.6 994.1,768.2 995.4,766.7 996.7,765.1 997.9,763.6 999.1,762.0 1000.3,760.3 1001.5,758.7 1002.6,757.1 1003.8,755.4 1004.9,753.8 1005.9,752.1 1007.0,750.4 1008.0,748.7 1009.0,747.0 1010.0,745.2 1011.0,743.5 1012.0,741.7 1012.9,740.0 1013.9,738.2 1014.8,736.5 1015.8,734.7 1016.8,732.9 1017.7,731.2 1018.7,729.4 1019.7,727.7 1020.7,726.0 1021.6,724.2 1022.6,722.5 1023.6,720.7 1024.5,719.0 1025.5,717.2 1026.4,715.4 1027.4,713.7 1028.4,712.0 1029.4,710.2 1030.5,708.6 1031.6,706.9 1032.8,705.3 1034.0,703.7 1035.4,702.2 1036.7,700.8 1038.2,699.4 1039.7,698.2 1041.4,697.2 1043.1,696.8 1044.9,697.0 1046.5,697.9 1047.9,699.1 1049.2,700.6 1050.3,702.3 1051.4,704.0 1052.3,705.7 1053.1,707.6 1053.9,709.4 1054.5,711.3 1055.1,713.2 1055.7,715.1 1056.2,717.0 1056.8,719.0 1057.3,720.9 1057.8,722.8 1058.3,724.8 1058.9,726.7 1059.4,728.6 1059.9,730.6 1060.4,732.5 1060.8,734.4 1061.3,736.4 1061.7,738.4 1062.1,740.3 1062.5,742.3 1062.9,744.2 1063.2,746.2 1063.6,748.2 1063.9,750.2 1064.1,752.1 1064.4,754.1 1064.6,756.1 1064.8,758.1 1065.0,760.1 1065.2,762.1 1065.3,764.1 1065.5,766.1 1065.7,768.1 1065.8,770.0 1066.0,772.0 1066.2,774.0 1064.6,780.5 1064.2,778.5 1063.7,776.6 1063.3,774.6 1062.8,772.7 1062.4,770.7 1061.9,768.8 1061.4,766.9 1060.8,764.9 1060.2,763.0 1059.6,761.1 1058.9,759.2 1058.3,757.4 1057.5,755.5 1056.8,753.7 1056.0,751.8 1055.0,750.1 1054.0,748.4 1052.8,746.7 1051.6,745.2 1050.2,743.8 1048.7,742.6 1047.0,741.8 1045.2,741.5 1043.3,741.7 1041.5,742.4 1039.7,743.3 1038.1,744.4 1036.5,745.6 1034.9,746.8 1033.4,748.2 1031.9,749.5 1030.6,751.0 1029.2,752.5 1027.9,754.0 1026.7,755.5 1025.5,757.1 1024.3,758.7 1023.1,760.3 1021.9,761.9 1020.7,763.6 1019.5,765.2 1018.4,766.8 1017.2,768.4 1016.0,770.0 1014.9,771.7 1013.7,773.3 1012.6,775.0 1011.5,776.6 1010.4,778.3 1009.3,780.0 1008.2,781.6 1007.0,783.3 1005.9,784.9 1004.7,786.6 1003.6,788.2 1002.3,789.7 1001.1,791.3 999.7,792.8 998.4,794.3 997.0,795.7 995.6,797.2 994.2,798.5 992.7,799.9 991.2,801.1 989.5,802.3 987.8,803.3 986.1,804.3 984.3,805.1 982.4,805.8 980.5,806.5 978.6,807.0 976.6,807.3 974.7,807.6 972.7,807.7 970.7,807.6 968.7,807.4 966.7,807.1 964.8,806.7 962.8,806.2 960.9,805.7 959.0,805.1 957.1,804.5 955.2,803.9 953.3,803.2 951.4,802.5 949.5,801.8 947.7,801.1 945.8,800.3 944.0,799.5 942.2,798.7 940.4,797.8 938.6,796.9 936.8,796.1 935.0,795.2 933.2,794.3 931.4,793.5 929.5,792.7 927.7,792.0 925.8,791.3 923.9,790.6 922.0,789.9 920.2,789.3 918.3,788.6 916.4,788.0 914.5,787.4 912.5,786.8 910.6,786.2 908.7,785.7 906.8,785.2 904.8,784.8 902.8,784.4 900.9,784.1 898.9,783.9 896.9,783.7 894.9,783.6 892.9,783.6 890.9,783.7 888.9,783.8 886.9,784.0 884.9,784.2 883.0,784.4 881.0,784.7 879.0,785.1 877.0,785.4 875.1,785.7 873.1,786.1 871.1,786.5 869.2,786.9 867.2,787.4 865.3,787.8 863.4,788.3 861.4,788.9 859.5,789.4 857.6,789.9 855.6,790.4 853.7,791.0 851.8,791.5 849.8,792.0 847.9,792.5 846.0,793.0 844.0,793.5 842.1,794.0 840.2,794.5 838.2,795.0 836.3,795.5 834.3,796.0 832.4,796.4 830.4,796.8 828.5,797.2 826.5,797.6 824.5,798.0 822.6,798.3 820.6,798.5 818.6,798.7 816.6,798.9 814.6,798.9 812.6,798.9 810.6,798.8 808.6,798.7 806.6,798.5 804.7,798.2 802.7,797.9 800.7,797.5 798.7,797.2 796.8,796.7 794.8,796.3 792.9,795.8 791.0,795.2 789.1,794.6 787.2,794.0 785.3,793.4 783.4,792.8 781.5,792.2 779.6,791.6 777.7,791.0 775.7,790.4 773.8,789.9 771.9,789.4 769.9,788.8 768.0,788.3 766.1,787.9 764.1,787.4 762.2,786.9 760.2,786.4 758.3,785.9 756.4,785.5 754.4,785.0 752.5,784.5 750.5,784.1 748.6,783.6 746.6,783.1 744.7,782.7 742.7,782.3 740.8,781.9 738.8,781.6 736.8,781.4 734.8,781.1 732.8,781.0 730.8,781.1 728.9,781.3 727.0,781.9 725.2,782.7 723.6,783.8 722.1,785.1 720.7,786.5 719.5,788.0 718.4,789.7 717.5,791.5 716.7,793.3 716.0,795.2 715.4,797.1 714.9,799.0 714.4,801.0 714.0,802.9 713.6,804.9 713.2,806.8 712.8,808.8 712.4,810.8 712.0,812.7 711.7,814.7 711.3,816.7 711.0,818.6 710.7,820.6 710.4,822.6 710.2,824.6 710.0,826.6 709.7,828.5 709.5,830.5 709.3,832.5 709.0,834.5 708.8,836.5 708.5,838.5 708.3,840.5 708.0,842.4 707.8,844.4 707.5,846.4 707.3,848.4 707.1,850.4 706.8,852.4 706.6,854.4 706.4,856.3 706.1,858.3 705.9,860.3 705.7,862.3 705.4,864.3 705.2,866.3 705.0,868.3 704.8,870.3 704.6,872.2 704.4,874.2 704.2,876.2 704.0,878.2 703.8,880.2 703.6,882.2 703.4,884.2 703.2,886.2 703.0,888.2 702.8,890.2 702.6,892.1 702.5,894.1 702.3,896.1 702.1,898.1 701.9,900.1 701.8,902.1 701.6,904.1 701.4,906.1 701.3,908.1 701.1,910.1 701.0,912.1 700.8,914.1 700.7,916.1 700.5,918.1 700.4,920.1 700.3,922.1 700.1,924.0 700.0,926.0 699.9,928.0 699.8,930.0 699.7,932.0 699.6,934.0 699.5,936.0 699.4,938.0 699.3,940.0 699.2,942.0 699.1,944.0 699.0,946.0 698.9,948.0 698.8,950.0 698.7,952.0 698.6,954.0 698.5,956.0 698.4,958.0 698.3,960.0" fill="#46788e" fill-opacity="0.30"/>
<path d="M698.2 862.6 L698.5 860.6 L698.8 858.6 L699.1 856.7 L699.4 854.7 L699.7 852.7 L700.0 850.7 L700.3 848.8 L700.6 846.8 L700.9 844.8 L701.2 842.8 L701.5 840.8 L701.8 838.9 L702.1 836.9 L702.4 834.9 L702.7 832.9 L703.0 831.0 L703.4 829.0 L703.7 827.0 L704.0 825.1 L704.4 823.1 L704.8 821.1 L705.1 819.2 L705.5 817.2 L705.9 815.2 L706.3 813.3 L706.8 811.3 L707.2 809.4 L707.7 807.4 L708.1 805.5 L708.6 803.5 L709.1 801.6 L709.6 799.7 L710.1 797.7 L710.6 795.8 L711.2 793.9 L711.7 792.0 L712.3 790.0 L712.9 788.1 L713.5 786.2 L714.1 784.3 L714.8 782.4 L715.5 780.6 L716.2 778.7 L717.0 776.9 L717.9 775.1 L718.8 773.3 L719.7 771.5 L720.6 769.7 L721.6 768.0 L722.7 766.3 L723.8 764.7 L725.1 763.1 L726.4 761.7 L728.0 760.5 L729.7 759.5 L731.5 758.7 L733.4 758.1 L735.3 757.7 L737.3 757.6 L739.3 757.6 L741.3 757.8 L743.2 758.2 L745.1 758.7 L747.0 759.3 L748.9 760.0 L750.8 760.7 L752.6 761.5 L754.5 762.3 L756.3 763.2 L758.0 764.1 L759.8 765.1 L761.5 766.1 L763.2 767.1 L764.9 768.2 L766.6 769.2 L768.4 770.2 L770.1 771.2 L771.8 772.1 L773.6 773.1 L775.4 774.0 L777.2 774.9 L778.9 775.8 L780.7 776.7 L782.6 777.5 L784.4 778.3 L786.3 779.0 L788.2 779.6 L790.1 780.2 L792.0 780.8 L793.9 781.3 L795.9 781.7 L797.8 782.2 L799.8 782.5 L801.8 782.9 L803.8 783.2 L805.7 783.4 L807.7 783.6 L809.7 783.7 L811.7 783.8 L813.7 783.9 L815.7 783.8 L817.7 783.8 L819.7 783.6 L821.7 783.5 L823.7 783.3 L825.7 783.1 L827.7 782.9 L829.7 782.6 L831.6 782.4 L833.6 782.1 L835.6 781.7 L837.5 781.4 L839.5 781.0 L841.5 780.6 L843.4 780.1 L845.4 779.7 L847.3 779.3 L849.3 778.8 L851.2 778.4 L853.2 777.9 L855.1 777.5 L857.1 777.1 L859.0 776.6 L861.0 776.2 L862.9 775.8 L864.9 775.3 L866.8 774.9 L868.8 774.5 L870.8 774.1 L872.7 773.7 L874.7 773.3 L876.6 772.9 L878.6 772.6 L880.6 772.3 L882.6 772.0 L884.6 771.8 L886.5 771.5 L888.5 771.2 L890.5 771.0 L892.5 770.8 L894.5 770.7 L896.5 770.7 L898.5 770.7 L900.5 770.9 L902.4 771.2 L904.4 771.6 L906.3 772.0 L908.3 772.5 L910.2 773.0 L912.2 773.6 L914.1 774.1 L916.0 774.7 L917.9 775.3 L919.8 775.9 L921.7 776.5 L923.6 777.2 L925.4 777.9 L927.3 778.7 L929.1 779.5 L931.0 780.3 L932.8 781.1 L934.6 781.9 L936.4 782.8 L938.2 783.6 L940.0 784.5 L941.8 785.3 L943.7 786.2 L945.5 787.0 L947.3 787.8 L949.2 788.6 L951.0 789.3 L952.9 790.0 L954.8 790.6 L956.7 791.2 L958.6 791.7 L960.6 792.2 L962.5 792.6 L964.5 792.9 L966.5 793.2 L968.5 793.4 L970.5 793.5 L972.5 793.5 L974.5 793.4 L976.4 793.1 L978.4 792.7 L980.3 792.0 L982.1 791.3 L983.8 790.3 L985.5 789.2 L987.1 788.0 L988.6 786.7 L990.1 785.4 L991.5 784.0 L992.9 782.6 L994.3 781.1 L995.6 779.6 L997.0 778.1 L998.2 776.6 L999.5 775.0 L1000.7 773.5 L1001.9 771.9 L1003.1 770.3 L1004.3 768.6 L1005.4 767.0 L1006.6 765.4 L1007.7 763.7 L1008.8 762.1 L1010.0 760.4 L1011.1 758.8 L1012.2 757.1 L1013.2 755.4 L1014.3 753.7 L1015.3 752.0 L1016.4 750.3 L1017.4 748.5 L1018.4 746.8 L1019.5 745.1 L1020.5 743.4 L1021.6 741.8 L1022.7 740.1 L1023.8 738.4 L1025.0 736.8 L1026.2 735.2 L1027.4 733.6 L1028.6 732.0 L1029.8 730.4 L1031.0 728.8 L1032.3 727.3 L1033.6 725.8 L1035.0 724.4 L1036.5 723.0 L1038.0 721.7 L1039.6 720.6 L1041.3 719.6 L1043.1 718.8 L1045.0 718.5 L1046.8 718.7 L1048.6 719.4 L1050.1 720.5 L1051.4 722.0 L1052.5 723.6 L1053.4 725.4 L1054.2 727.2 L1054.9 729.1 L1055.5 731.0 L1056.2 732.9 L1056.8 734.8 L1057.3 736.7 L1057.9 738.6 L1058.4 740.6 L1058.9 742.5 L1059.4 744.4 L1059.9 746.4 L1060.3 748.3 L1060.8 750.3 L1061.2 752.2 L1061.6 754.2 L1062.0 756.2 L1062.4 758.1 L1062.7 760.1 L1063.1 762.1 L1063.4 764.0 L1063.7 766.0 L1064.0 768.0 L1064.4 770.0 L1064.7 771.9 L1065.0 773.9 L1065.3 775.9 L1065.5 777.9 L1065.8 779.8 L1066.1 781.8 L1066.4 783.8 L1066.6 785.8 L1066.9 787.8 L1067.2 789.8 L1067.4 791.7 L1067.7 793.7 L1067.9 795.7 L1068.1 797.7 L1068.4 799.7 L1068.6 801.7 L1068.8 803.7 L1069.1 805.6 L1069.3 807.6 L1069.5 809.6 L1069.7 811.6 L1069.9 813.6 L1070.2 815.6 L1070.4 817.6 L1070.6 819.6 L1070.8 821.5 L1071.0 823.5 L1071.2 825.5 L1071.5 827.5 L1071.7 829.5 L1071.9 831.5 L1072.1 833.5 L1072.3 835.5 L1072.5 837.5 L1072.7 839.4 L1073.0 841.4 L1073.2 843.4 L1073.4 845.4 L1073.6 847.4 L1073.8 849.4 L1074.0 851.4 L1074.2 853.4 L1074.3 855.4 L1074.5 857.4 L1074.7 859.3 L1074.9 861.3 L1075.1 863.3 L1075.3 865.3 L1075.4 867.3 L1075.6 869.3 L1075.8 871.3 L1075.9 873.3 L1076.1 875.3 L1076.3 877.3 L1076.4 879.3 L1076.6 881.3 L1076.7 883.3 L1076.9 885.3 L1077.0 887.3 L1077.2 889.2 L1077.3 891.2 L1077.4 893.2 L1077.6 895.2 L1077.7 897.2 L1077.9 899.2 L1078.0 901.2 L1078.1 903.2 L1078.2 905.2 L1078.4 907.2 L1078.5 909.2 L1078.6 911.2 L1078.8 913.2 L1078.9 915.2 L1079.0 917.2 L1079.1 919.2 L1079.3 921.2 L1079.4 923.2 L1079.5 925.2 L1079.6 927.2 L1079.8 929.2 L1079.9 931.2 L1080.0 933.2 L1080.1 935.1 L1080.2 937.1 L1080.4 939.1 L1080.5 941.1 L1080.6 943.1 L1080.7 945.1 L1080.8 947.1 L1080.9 949.1 L1081.1 951.1 L1081.2 953.1 L1081.3 955.1 L1081.4 957.1 L1081.5 959.1 L1081.6 961.1 L1081.7 963.1 L1081.9 965.1 L1082.0 967.1 L1082.1 969.1 L1082.2 971.1 L1082.3 973.1 L1082.4 975.1 L1082.5 977.1 L1082.6 979.1 L1082.7 981.1 L1082.8 983.1 L1082.9 985.1 L1083.1 987.1 L1083.2 989.1 L1083.3 991.1 L1083.4 993.1 L1083.5 995.1 L1083.6 997.1 L1083.7 999.0 L1083.8 1001.0 L1083.9 1003.0 L1084.0 1005.0 L1084.1 1007.0 L1084.2 1009.0 L1084.3 1011.0 L1084.4 1013.0 L1084.5 1015.0 L1084.6 1017.0 L1084.7 1019.0 L1084.8 1021.0 L1084.9 1023.0 L1085.0 1025.0 L1085.1 1027.0 L1085.1 1029.0 L1085.2 1031.0 L1085.3 1033.0 L1085.4 1035.0 L1085.5 1037.0 L1085.5 1039.0 L1085.6 1041.0 L1085.7 1043.0 L1085.8 1045.0 L1085.9 1047.0 L1086.0 1049.0" fill="none" stroke="#46788e" stroke-width="6.6" stroke-linejoin="round" stroke-linecap="square"/>
<circle cx="717.3" cy="778.8" r="8.3" fill="#313e43" fill-opacity="0.7"/><circle cx="787.0" cy="778.8" r="8.3" fill="#313e43" fill-opacity="0.7"/><circle cx="856.7" cy="778.8" r="8.3" fill="#313e43" fill-opacity="0.7"/><circle cx="926.5" cy="778.8" r="8.3" fill="#313e43" fill-opacity="0.7"/><circle cx="996.2" cy="778.8" r="8.3" fill="#313e43" fill-opacity="0.7"/><circle cx="1065.9" cy="778.8" r="8.3" fill="#313e43" fill-opacity="0.7"/>
</g>
<text transform="translate(193.2,247.4) rotate(-90)" text-anchor="middle" font-size="28.8" stroke="#fff" stroke-width="5.8" stroke-linejoin="round" paint-order="stroke">wall</text>
<text transform="translate(193.2,779.2) rotate(-90)" text-anchor="middle" font-size="28.8" stroke="#fff" stroke-width="5.8" stroke-linejoin="round" paint-order="stroke">wall</text>
<path d="M305.4 358.5H389.8" stroke="#46788e" stroke-width="6.8" stroke-linecap="square"/>
<path d="M305.3 420.1H390.1" stroke="#dc2326" stroke-width="6.6" stroke-dasharray="13.1 6.45"/>
<rect x="164.7" y="11.8" width="463.8" height="470.5" fill="none" stroke="#000" stroke-width="3.4"/>
<rect x="659.7" y="11.8" width="463.9" height="470.5" fill="none" stroke="#000" stroke-width="3.4"/>
<rect x="164.7" y="543.8" width="463.8" height="470.1" fill="none" stroke="#000" stroke-width="3.4"/>
<rect x="659.7" y="543.8" width="463.9" height="470.1" fill="none" stroke="#000" stroke-width="3.4"/>
<text transform="translate(153.2,23.7) scale(0.933,1)" font-size="34.3" text-anchor="end" stroke="#000" stroke-width="0.5">0.02</text>
<text transform="translate(153.2,141.3) scale(0.933,1)" font-size="34.3" text-anchor="end" stroke="#000" stroke-width="0.5">0.01</text>
<text transform="translate(153.2,258.9) scale(0.933,1)" font-size="34.3" text-anchor="end" stroke="#000" stroke-width="0.5">0.00</text>
<text transform="translate(153.2,376.6) scale(0.933,1)" font-size="34.3" text-anchor="end" stroke="#000" stroke-width="0.5">−0.01</text>
<text transform="translate(153.2,494.2) scale(0.933,1)" font-size="34.3" text-anchor="end" stroke="#000" stroke-width="0.5">−0.02</text>
<text transform="translate(153.2,555.7) scale(0.933,1)" font-size="34.3" text-anchor="end" stroke="#000" stroke-width="0.5">0.02</text>
<text transform="translate(153.2,673.2) scale(0.933,1)" font-size="34.3" text-anchor="end" stroke="#000" stroke-width="0.5">0.01</text>
<text transform="translate(153.2,790.8) scale(0.933,1)" font-size="34.3" text-anchor="end" stroke="#000" stroke-width="0.5">0.00</text>
<text transform="translate(153.2,908.3) scale(0.933,1)" font-size="34.3" text-anchor="end" stroke="#000" stroke-width="0.5">−0.01</text>
<text transform="translate(153.2,1025.8) scale(0.933,1)" font-size="34.3" text-anchor="end" stroke="#000" stroke-width="0.5">−0.02</text>
<text transform="translate(255.2,1049.6) scale(0.933,1)" font-size="34.3" text-anchor="middle" stroke="#000" stroke-width="0.5">−0.5</text>
<text transform="translate(397.1,1049.6) scale(0.933,1)" font-size="34.3" text-anchor="middle" stroke="#000" stroke-width="0.5">0.0</text>
<text transform="translate(538.7,1049.6) scale(0.933,1)" font-size="34.3" text-anchor="middle" stroke="#000" stroke-width="0.5">0.5</text>
<text class="m i" x="396.7" y="1087.1" font-size="35.5" text-anchor="middle" stroke="#000" stroke-width="0.4">y</text>
<text transform="translate(764.0,1049.6) scale(0.933,1)" font-size="34.3" text-anchor="middle" stroke="#000" stroke-width="0.5">−0.2</text>
<text transform="translate(892.2,1049.6) scale(0.933,1)" font-size="34.3" text-anchor="middle" stroke="#000" stroke-width="0.5">0.0</text>
<text transform="translate(1020.0,1049.6) scale(0.933,1)" font-size="34.3" text-anchor="middle" stroke="#000" stroke-width="0.5">0.2</text>
<text class="m i" x="891.8" y="1087.1" font-size="35.5" text-anchor="middle" stroke="#000" stroke-width="0.4">y</text>
<text x="-0.5" y="69.8" font-size="42" stroke="#000" stroke-width="0.5" textLength="51.9">(a)</text>
<text x="-0.5" y="601.6" font-size="42" stroke="#000" stroke-width="0.5" textLength="51.9">(b)</text>
<text class="m i" x="316.8" y="68.6" font-size="42" textLength="20.5" lengthAdjust="spacingAndGlyphs" stroke="#000" stroke-width="0.45">x</text>
<text class="m" x="344.2" y="69.7" font-size="38.5" textLength="33" lengthAdjust="spacingAndGlyphs">=</text>
<text class="m" x="383.1" y="68.8" font-size="41" textLength="92.5" lengthAdjust="spacingAndGlyphs" stroke="#000" stroke-width="0.45">0.599</text>
<text class="m i" x="812.2" y="68.6" font-size="42" textLength="20.5" lengthAdjust="spacingAndGlyphs" stroke="#000" stroke-width="0.45">x</text>
<text class="m" x="839.6" y="69.7" font-size="38.5" textLength="33" lengthAdjust="spacingAndGlyphs">=</text>
<text class="m" x="878.5" y="68.8" font-size="41" textLength="92.5" lengthAdjust="spacingAndGlyphs" stroke="#000" stroke-width="0.45">1.819</text>
<text class="m i" transform="translate(424,371.7) scale(1,1.02)" font-size="41" stroke="#000" stroke-width="0.45">δ</text>
<text class="m i" transform="translate(444.5,370.5) scale(1.12,0.97)" font-size="41" stroke="#000" stroke-width="0.45">f</text>
<text class="m i" x="468.5" y="357.2" font-size="29" stroke="#000" stroke-width="0.45">x</text>
<text class="m i" transform="translate(424,433.0) scale(1,1.02)" font-size="41" stroke="#000" stroke-width="0.45">δ</text>
<text class="m i" transform="translate(444.5,431.8) scale(1.12,0.97)" font-size="41" stroke="#000" stroke-width="0.45">f</text>
<text class="m i" x="468.5" y="417.8" font-size="29" stroke="#000" stroke-width="0.45">y</text>
<g transform="translate(33.5,279.4) rotate(-90)"><text class="m i" transform="scale(1,1.08)" font-size="41" stroke="#000" stroke-width="0.45">δ</text><text class="m i" transform="translate(20.5,-2.3) scale(1.15,0.99)" font-size="41" stroke="#000" stroke-width="0.45">f</text><text class="m i" x="44.2" y="-15.9" font-size="29" stroke="#000" stroke-width="0.45">α</text></g>
<g transform="translate(33.1,797.6) rotate(-90)"><text class="m i" transform="scale(1,1.08)" font-size="41" stroke="#000" stroke-width="0.45">δ</text><text class="m i" x="19.6" y="0" font-size="41" stroke="#000" stroke-width="0.45">s</text></g>
</svg></body></html>
